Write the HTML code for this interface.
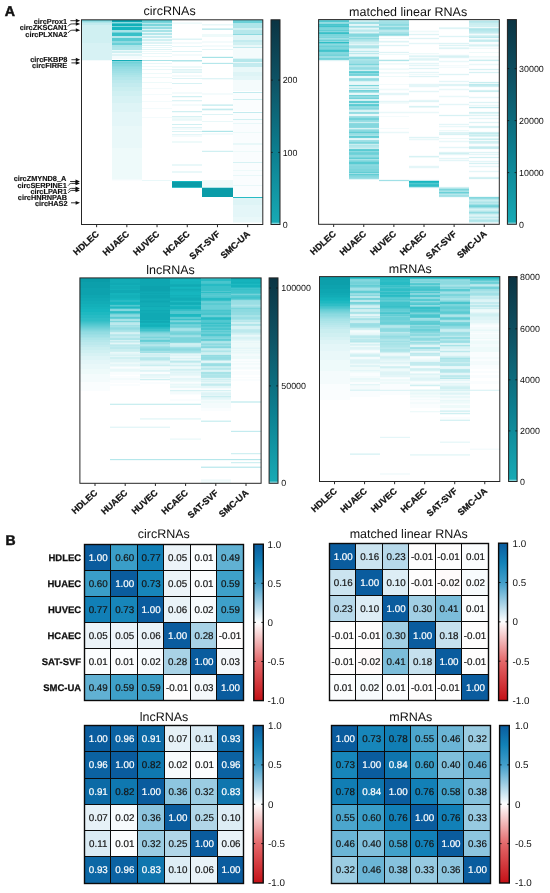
<!DOCTYPE html>
<html lang="en"><head><meta charset="utf-8"><title>Figure</title>
<style>
html,body{margin:0;padding:0;background:#fff}
svg{display:block}
text{font-family:"Liberation Sans", Arial, Helvetica, sans-serif;fill:#111;text-rendering:geometricPrecision}
.b{font-weight:700;stroke:#111;stroke-width:.25px}
</style></head><body>
<svg width="550" height="893" viewBox="0 0 550 893">
<rect width="550" height="893" fill="#fff"/>
<defs><linearGradient id="tg" x1="0" y1="1" x2="0" y2="0"><stop offset="0" stop-color="#c8f2f4"/><stop offset="0.012" stop-color="#17a9b4"/><stop offset="0.35" stop-color="#0c7f90"/><stop offset="0.7" stop-color="#0e5365"/><stop offset="1" stop-color="#0b3443"/></linearGradient><linearGradient id="bg" x1="0" y1="0" x2="0" y2="1"><stop offset="0" stop-color="#0a5c9e"/><stop offset="0.125" stop-color="#1282b8"/><stop offset="0.25" stop-color="#429fca"/><stop offset="0.5" stop-color="#ffffff"/><stop offset="0.75" stop-color="#e4686a"/><stop offset="1" stop-color="#c41016"/></linearGradient></defs>
<path fill="#fafdfe" d="M112 180h30v1h-30zM233 93h29.8v6h-29.8zM233 100h29.8v11h-29.8zM233 113h29.8v6h-29.8zM233 120h29.8v3h-29.8zM233 124h29.8v8h-29.8zM233 133h29.8v10h-29.8zM233 145h29.8v6h-29.8zM233 152h29.8v10h-29.8zM233 163h29.8v7h-29.8zM233 171h29.8v4h-29.8zM233 176h29.8v9h-29.8zM233 186h29.8v11h-29.8z"/>
<path fill="#f4fbfc" d="M81.5 60h30.5v1h-30.5zM112 53h30v1h-30zM112 56h30v3h-30zM112 179h30v1h-30zM142 38h30v1h-30zM142 41h30v1h-30zM142 88h30v1h-30zM142 94h30v1h-30zM142 101h30v1h-30zM142 108h30v1h-30zM142 117h30v1h-30zM172 22h30v1h-30zM172 42h30v2h-30zM172 54h30v2h-30zM172 75h30v2h-30zM172 92h30v2h-30zM172 97h30v1h-30zM172 101h30v1h-30zM172 104h30v2h-30zM172 112h30v1h-30zM172 128h30v2h-30zM172 135h30v2h-30zM202 25h31v1h-31zM202 41h31v2h-31zM202 45h31v2h-31zM202 62h31v1h-31zM202 79h31v1h-31zM202 93h31v2h-31zM202 133h31v2h-31zM202 150h31v1h-31zM233 48h29.8v10h-29.8zM233 80h29.8v11h-29.8zM233 222h29.8v1h-29.8z"/>
<path fill="#eefafa" d="M112 148h30v31h-30zM142 35h30v1h-30zM142 51h30v1h-30zM142 56h30v1h-30zM142 66h30v1h-30zM142 73h30v1h-30zM142 77h30v1h-30zM142 82h30v1h-30zM172 23h30v1h-30zM172 38h30v1h-30zM172 66h30v2h-30zM172 117h30v2h-30zM172 120h30v1h-30zM172 141h30v2h-30zM202 34h31v3h-31zM202 56h31v1h-31zM202 110h31v1h-31zM202 130h31v1h-31zM202 180h31v7h-31zM233 132h29.8v1h-29.8zM233 151h29.8v1h-29.8zM233 170h29.8v1h-29.8z"/>
<path fill="#e9f8f9" d="M112 50h30v1h-30zM112 126h30v22h-30zM142 32h30v1h-30zM142 47h30v1h-30zM142 53h30v1h-30zM142 63h30v1h-30zM142 69h30v1h-30zM142 180h30v1h-30zM172 70h30v2h-30zM172 119h30v1h-30zM172 164h30v2h-30zM172 171h30v2h-30zM202 24h31v1h-31zM202 108h31v1h-31zM202 121h31v1h-31zM233 45h29.8v2h-29.8zM233 62h29.8v1h-29.8zM233 67h29.8v5h-29.8zM233 123h29.8v1h-29.8zM233 143h29.8v2h-29.8zM233 175h29.8v1h-29.8zM233 185h29.8v1h-29.8zM233 217h29.8v5h-29.8z"/>
<path fill="#e4f6f8" d="M112 112h30v14h-30zM172 46h30v1h-30zM172 134h30v1h-30zM202 49h31v1h-31zM233 76h29.8v4h-29.8zM233 205h29.8v12h-29.8z"/>
<path fill="#def4f6" d="M112 54h30v2h-30zM112 103h30v9h-30zM142 29h30v1h-30zM142 42h30v2h-30zM142 45h30v1h-30zM142 49h30v1h-30zM172 39h30v1h-30zM172 51h30v1h-30zM172 69h30v1h-30zM172 72h30v1h-30zM172 78h30v1h-30zM172 100h30v1h-30zM172 127h30v1h-30zM202 78h31v1h-31zM202 104h31v1h-31zM202 114h31v1h-31zM233 35h29.8v5h-29.8zM233 58h29.8v1h-29.8zM233 72h29.8v4h-29.8zM233 198h29.8v7h-29.8z"/>
<path fill="#d7f2f4" d="M81.5 43h30.5v17h-30.5zM112 96h30v7h-30zM172 61h30v1h-30zM172 83h30v1h-30zM172 116h30v1h-30zM172 131h30v1h-30zM202 28h31v1h-31zM233 162h29.8v1h-29.8z"/>
<path fill="#d0f0f2" d="M81.5 25h30.5v18h-30.5zM112 51h30v2h-30zM112 91h30v5h-30zM142 39h30v2h-30zM172 96h30v1h-30zM172 111h30v1h-30zM172 124h30v1h-30zM202 105h31v1h-31zM202 151h31v1h-31zM233 28h29.8v2h-29.8zM233 42h29.8v3h-29.8zM233 99h29.8v1h-29.8zM233 119h29.8v1h-29.8z"/>
<path fill="#caeef0" d="M112 87h30v4h-30z"/>
<path fill="#c3ebef" d="M81.5 23h30.5v2h-30.5zM112 83h30v4h-30zM142 26h30v1h-30zM142 36h30v2h-30zM202 29h31v1h-31zM202 109h31v1h-31zM233 40h29.8v2h-29.8zM233 47h29.8v1h-29.8zM233 63h29.8v4h-29.8zM233 92h29.8v1h-29.8zM233 112h29.8v1h-29.8z"/>
<path fill="#bce9ed" d="M112 80h30v3h-30z"/>
<path fill="#b5e7eb" d="M112 36h30v2h-30zM112 77h30v3h-30zM142 23h30v1h-30zM142 33h30v2h-30zM202 63h31v1h-31zM233 30h29.8v4h-29.8zM233 59h29.8v3h-29.8z"/>
<path fill="#aee5e9" d="M81.5 22h30.5v1h-30.5zM112 47h30v3h-30zM112 75h30v2h-30zM172 60h30v1h-30zM202 131h31v1h-31zM202 187h31v1h-31zM233 23h29.8v5h-29.8z"/>
<path fill="#a7e3e7" d="M112 30h30v2h-30zM112 45h30v2h-30zM112 73h30v2h-30zM142 30h30v2h-30zM142 60h30v1h-30zM202 57h31v1h-31z"/>
<path fill="#a0e0e6" d="M112 71h30v2h-30z"/>
<path fill="#9adee4" d="M112 69h30v2h-30z"/>
<path fill="#93dce2" d="M81.5 21h30.5v1h-30.5zM112 67h30v2h-30zM142 27h30v2h-30z"/>
<path fill="#8cdae0" d="M112 22h30v1h-30zM112 41h30v2h-30zM112 66h30v1h-30zM233 34h29.8v1h-29.8z"/>
<path fill="#84d7de" d="M112 61h30v1h-30zM112 64h30v2h-30z"/>
<path fill="#7bd5db" d="M112 26h30v1h-30zM112 63h30v1h-30zM142 22h30v1h-30zM142 24h30v2h-30z"/>
<path fill="#73d2d9" d="M112 32h30v1h-30zM112 62h30v1h-30z"/>
<path fill="#6ad0d7" d="M81.5 20h30.5v1h-30.5zM112 43h30v2h-30zM142 21h30v1h-30zM233 20h29.8v3h-29.8z"/>
<path fill="#59cbd2" d="M112 38h30v3h-30zM142 20h30v1h-30z"/>
<path fill="#49c5cd" d="M112 23h30v1h-30z"/>
<path fill="#38c0c8" d="M112 33h30v3h-30zM172 187h30v1h-30z"/>
<path fill="#27bbc4" d="M233 197h29.8v1h-29.8z"/>
<path fill="#16b6bf" d="M112 27h30v3h-30zM172 181h30v1h-30z"/>
<path fill="#13b0b9" d="M112 24h30v2h-30z"/>
<path fill="#12acb6" d="M112 60h30v1h-30z"/>
<path fill="#0ea6b1" d="M112 20h30v2h-30z"/>
<path fill="#0a9ca8" d="M172 182h30v5h-30zM202 188h31v9h-31z"/>
<rect x="81.5" y="19.8" width="181.3" height="204.7" fill="none" stroke="#262626" stroke-width="1"/>
<text class="b" font-size="9" text-anchor="end" transform="translate(99.61 234.9) rotate(-42)">HDLEC</text>
<text class="b" font-size="9" text-anchor="end" transform="translate(129.82 234.9) rotate(-42)">HUAEC</text>
<text class="b" font-size="9" text-anchor="end" transform="translate(160.04 234.9) rotate(-42)">HUVEC</text>
<text class="b" font-size="9" text-anchor="end" transform="translate(190.26 234.9) rotate(-42)">HCAEC</text>
<text class="b" font-size="9" text-anchor="end" transform="translate(220.48 234.9) rotate(-42)">SAT-SVF</text>
<text class="b" font-size="9" text-anchor="end" transform="translate(250.69 234.9) rotate(-42)">SMC-UA</text>
<path d="M96.61 224.5v2.7M126.83 224.5v2.7M157.04 224.5v2.7M187.26 224.5v2.7M217.48 224.5v2.7M247.69 224.5v2.7" stroke="#262626" stroke-width="1" fill="none"/>
<text font-size="12.5" text-anchor="middle" x="169.65" y="15.4">circRNAs</text>
<rect x="271" y="19.8" width="9" height="204.7" fill="url(#tg)" stroke="#222" stroke-width="1"/>
<text font-size="8.9" x="282.7" y="227.9">0</text>
<text font-size="8.9" x="282.7" y="155.6">100</text>
<text font-size="8.9" x="282.7" y="83.3">200</text>
<path d="M271 152.4h1.8M280 152.4h-1.8M271 80.1h1.8M280 80.1h-1.8" stroke="#111" stroke-width="0.8" fill="none"/>
<path fill="#fafdfe" d="M318.6 61h30.4v1h-30.4zM379 40h30v1h-30zM379 44h30v1h-30zM379 46h30v1h-30zM379 51h30v1h-30zM379 53h30v1h-30zM379 88h30v1h-30zM379 90h30v1h-30zM379 92h30v1h-30zM379 95h30v1h-30zM379 100h30v1h-30zM379 111h30v1h-30zM379 113h30v1h-30zM379 131h30v1h-30zM379 133h30v1h-30zM409 30h30v1h-30zM409 32h30v2h-30zM409 35h30v1h-30zM409 37h30v1h-30zM409 39h30v1h-30zM409 42h30v1h-30zM409 44h30v1h-30zM409 54h30v1h-30zM409 62h30v1h-30zM409 66h30v2h-30zM409 69h30v1h-30zM409 71h30v1h-30zM409 73h30v1h-30zM409 75h30v1h-30zM409 77h30v1h-30zM409 83h30v1h-30zM409 87h30v1h-30zM409 90h30v1h-30zM409 92h30v1h-30zM409 99h30v1h-30zM409 102h30v1h-30zM409 105h30v1h-30zM409 111h30v1h-30zM409 113h30v1h-30zM409 136h30v1h-30zM409 140h30v1h-30zM409 155h30v1h-30zM409 165h30v1h-30zM409 168h30v1h-30zM409 179h30v1h-30zM409 188h30v1h-30zM439 29h30v1h-30zM439 35h30v1h-30zM439 37h30v1h-30zM439 42h30v1h-30zM439 46h30v1h-30zM439 49h30v1h-30zM439 54h30v1h-30zM439 58h30v1h-30zM439 60h30v1h-30zM439 62h30v1h-30zM439 66h30v1h-30zM439 73h30v1h-30zM439 75h30v1h-30zM439 80h30v1h-30zM439 82h30v2h-30zM439 86h30v1h-30zM439 88h30v1h-30zM439 90h30v1h-30zM439 95h30v1h-30zM439 97h30v1h-30zM439 103h30v1h-30zM439 105h30v1h-30zM439 114h30v1h-30zM439 116h30v1h-30zM439 123h30v1h-30zM439 125h30v1h-30zM439 127h30v1h-30zM439 131h30v1h-30zM439 135h30v1h-30zM439 140h30v1h-30zM439 142h30v1h-30zM439 146h30v1h-30zM439 148h30v1h-30zM439 151h30v1h-30zM439 155h30v1h-30zM439 157h30v1h-30zM439 161h30v1h-30zM439 186h30v1h-30zM469 42h30.3v2h-30.3zM469 47h30.3v1h-30.3zM469 58h30.3v1h-30.3zM469 61h30.3v1h-30.3zM469 63h30.3v1h-30.3zM469 65h30.3v1h-30.3zM469 68h30.3v1h-30.3zM469 70h30.3v2h-30.3zM469 73h30.3v1h-30.3zM469 81h30.3v1h-30.3zM469 87h30.3v1h-30.3zM469 89h30.3v1h-30.3zM469 92h30.3v1h-30.3zM469 96h30.3v1h-30.3zM469 98h30.3v1h-30.3zM469 101h30.3v1h-30.3zM469 103h30.3v2h-30.3zM469 111h30.3v1h-30.3zM469 116h30.3v2h-30.3zM469 119h30.3v1h-30.3zM469 121h30.3v1h-30.3zM469 123h30.3v1h-30.3zM469 125h30.3v1h-30.3zM469 128h30.3v1h-30.3zM469 131h30.3v1h-30.3zM469 137h30.3v1h-30.3zM469 144h30.3v2h-30.3zM469 149h30.3v1h-30.3zM469 151h30.3v1h-30.3zM469 155h30.3v2h-30.3zM469 158h30.3v1h-30.3zM469 160h30.3v1h-30.3zM469 164h30.3v2h-30.3zM469 167h30.3v1h-30.3zM469 170h30.3v1h-30.3zM469 172h30.3v1h-30.3zM469 176h30.3v1h-30.3zM469 179h30.3v1h-30.3zM469 223h30.3v1h-30.3z"/>
<path fill="#f4fbfc" d="M379 36h30v1h-30zM379 61h30v1h-30zM379 64h30v1h-30zM379 68h30v1h-30zM379 73h30v1h-30zM379 84h30v1h-30zM379 103h30v1h-30zM379 116h30v1h-30zM379 128h30v1h-30zM379 179h30v1h-30zM379 181h30v1h-30zM409 57h30v1h-30zM409 64h30v1h-30zM409 138h30v1h-30zM439 44h30v1h-30zM439 65h30v1h-30zM439 67h30v1h-30zM439 159h30v1h-30zM439 197h30v1h-30zM469 34h30.3v1h-30.3zM469 38h30.3v1h-30.3zM469 57h30.3v1h-30.3zM469 106h30.3v1h-30.3zM469 108h30.3v1h-30.3zM469 114h30.3v1h-30.3zM469 140h30.3v1h-30.3zM469 153h30.3v1h-30.3zM469 162h30.3v1h-30.3z"/>
<path fill="#eefafa" d="M379 38h30v1h-30zM379 42h30v1h-30zM379 54h30v1h-30zM379 63h30v1h-30zM379 69h30v1h-30zM379 72h30v1h-30zM379 76h30v1h-30zM379 89h30v1h-30zM379 102h30v1h-30zM409 31h30v1h-30zM409 53h30v1h-30zM409 74h30v1h-30zM409 157h30v1h-30zM439 130h30v1h-30zM439 138h30v1h-30zM469 27h30.3v1h-30.3zM469 48h30.3v1h-30.3zM469 52h30.3v1h-30.3zM469 56h30.3v1h-30.3zM469 83h30.3v1h-30.3zM469 196h30.3v1h-30.3z"/>
<path fill="#e9f8f9" d="M349 49h30v1h-30zM349 55h30v1h-30zM349 76h30v2h-30zM349 82h30v2h-30zM349 93h30v1h-30zM349 114h30v2h-30zM379 59h30v1h-30zM379 112h30v1h-30zM379 132h30v1h-30zM409 55h30v1h-30zM409 60h30v1h-30zM409 107h30v1h-30zM409 112h30v1h-30zM409 139h30v1h-30zM439 27h30v1h-30zM439 47h30v1h-30zM439 61h30v1h-30zM439 89h30v1h-30zM439 96h30v1h-30zM439 126h30v1h-30zM439 141h30v1h-30zM469 46h30.3v1h-30.3zM469 59h30.3v1h-30.3zM469 64h30.3v1h-30.3zM469 105h30.3v1h-30.3z"/>
<path fill="#e4f6f8" d="M349 24h30v1h-30zM349 28h30v1h-30zM349 44h30v1h-30zM349 50h30v1h-30zM349 52h30v1h-30zM349 54h30v1h-30zM349 84h30v1h-30zM349 94h30v1h-30zM349 139h30v1h-30zM349 179h30v1h-30zM379 93h30v2h-30zM379 101h30v1h-30zM409 43h30v1h-30zM409 58h30v1h-30zM409 63h30v1h-30zM409 65h30v1h-30zM409 72h30v1h-30zM409 84h30v3h-30zM409 91h30v1h-30zM409 100h30v1h-30zM409 166h30v2h-30zM439 55h30v1h-30zM439 81h30v1h-30zM439 104h30v1h-30zM439 124h30v1h-30zM439 147h30v1h-30zM439 154h30v1h-30zM439 158h30v1h-30zM439 160h30v1h-30zM469 44h30.3v1h-30.3zM469 97h30.3v1h-30.3zM469 118h30.3v1h-30.3zM469 154h30.3v1h-30.3zM469 161h30.3v1h-30.3zM469 166h30.3v1h-30.3zM469 171h30.3v1h-30.3z"/>
<path fill="#def4f6" d="M318.6 60h30.4v1h-30.4zM349 25h30v1h-30zM349 32h30v1h-30zM349 89h30v1h-30zM349 138h30v1h-30zM379 41h30v1h-30zM379 45h30v1h-30zM379 52h30v1h-30zM409 34h30v1h-30zM409 38h30v1h-30zM409 56h30v1h-30zM409 59h30v1h-30zM409 68h30v1h-30zM409 76h30v1h-30zM409 101h30v1h-30zM409 137h30v1h-30zM439 28h30v1h-30zM439 36h30v1h-30zM439 43h30v1h-30zM439 45h30v1h-30zM439 48h30v1h-30zM439 57h30v1h-30zM439 74h30v1h-30zM439 84h30v2h-30zM439 132h30v2h-30zM439 152h30v1h-30zM469 39h30.3v1h-30.3zM469 102h30.3v1h-30.3zM469 113h30.3v1h-30.3zM469 115h30.3v1h-30.3zM469 122h30.3v1h-30.3zM469 136h30.3v1h-30.3zM469 138h30.3v1h-30.3zM469 143h30.3v1h-30.3zM469 152h30.3v1h-30.3zM469 215h30.3v1h-30.3zM469 222h30.3v1h-30.3z"/>
<path fill="#d7f2f4" d="M349 81h30v1h-30zM349 87h30v1h-30zM349 99h30v1h-30zM349 110h30v2h-30zM349 128h30v1h-30zM409 106h30v1h-30zM409 156h30v1h-30zM439 56h30v1h-30zM439 115h30v1h-30zM439 134h30v1h-30zM469 20h30.3v1h-30.3zM469 33h30.3v1h-30.3zM469 35h30.3v1h-30.3zM469 45h30.3v1h-30.3zM469 69h30.3v1h-30.3zM469 72h30.3v1h-30.3zM469 90h30.3v1h-30.3zM469 126h30.3v2h-30.3zM469 134h30.3v1h-30.3zM469 146h30.3v1h-30.3zM469 163h30.3v1h-30.3zM469 177h30.3v1h-30.3zM469 209h30.3v1h-30.3zM469 218h30.3v1h-30.3z"/>
<path fill="#d0f0f2" d="M349 20h30v1h-30zM349 29h30v1h-30zM349 42h30v2h-30zM349 48h30v1h-30zM349 70h30v1h-30zM349 86h30v1h-30zM349 100h30v1h-30zM439 153h30v1h-30zM439 187h30v1h-30zM469 25h30.3v2h-30.3zM469 86h30.3v1h-30.3zM469 112h30.3v1h-30.3zM469 132h30.3v1h-30.3zM469 141h30.3v2h-30.3zM469 157h30.3v1h-30.3zM469 178h30.3v1h-30.3zM469 214h30.3v1h-30.3zM469 216h30.3v1h-30.3z"/>
<path fill="#caeef0" d="M349 21h30v1h-30zM349 56h30v1h-30zM349 122h30v1h-30zM349 144h30v1h-30zM349 148h30v1h-30zM469 23h30.3v2h-30.3zM469 36h30.3v1h-30.3zM469 41h30.3v1h-30.3zM469 60h30.3v1h-30.3zM469 82h30.3v1h-30.3zM469 91h30.3v1h-30.3zM469 135h30.3v1h-30.3zM469 139h30.3v1h-30.3zM469 148h30.3v1h-30.3zM469 200h30.3v1h-30.3zM469 210h30.3v1h-30.3z"/>
<path fill="#c3ebef" d="M349 31h30v1h-30zM409 180h30v1h-30zM409 187h30v1h-30zM469 32h30.3v1h-30.3zM469 40h30.3v1h-30.3zM469 85h30.3v1h-30.3zM469 107h30.3v1h-30.3zM469 133h30.3v1h-30.3zM469 147h30.3v1h-30.3zM469 208h30.3v1h-30.3zM469 219h30.3v1h-30.3z"/>
<path fill="#bce9ed" d="M349 30h30v1h-30zM349 41h30v1h-30zM349 45h30v1h-30zM349 51h30v1h-30zM349 53h30v1h-30zM349 103h30v1h-30zM349 147h30v1h-30zM379 30h30v2h-30zM469 22h30.3v1h-30.3zM469 28h30.3v1h-30.3zM469 31h30.3v1h-30.3zM469 37h30.3v1h-30.3zM469 84h30.3v1h-30.3zM469 201h30.3v1h-30.3zM469 203h30.3v1h-30.3zM469 217h30.3v1h-30.3z"/>
<path fill="#b5e7eb" d="M349 27h30v1h-30zM349 66h30v1h-30zM349 146h30v1h-30zM379 26h30v1h-30zM439 194h30v1h-30zM469 21h30.3v1h-30.3zM469 30h30.3v1h-30.3zM469 199h30.3v1h-30.3zM469 211h30.3v1h-30.3zM469 221h30.3v1h-30.3z"/>
<path fill="#aee5e9" d="M349 33h30v1h-30zM349 37h30v1h-30zM349 40h30v1h-30zM349 46h30v2h-30zM349 59h30v1h-30zM349 65h30v1h-30zM349 88h30v1h-30zM349 145h30v1h-30zM379 60h30v1h-30zM439 188h30v1h-30zM469 29h30.3v1h-30.3zM469 202h30.3v1h-30.3zM469 213h30.3v1h-30.3zM469 220h30.3v1h-30.3z"/>
<path fill="#a7e3e7" d="M349 39h30v1h-30zM349 60h30v1h-30zM349 92h30v1h-30zM349 129h30v1h-30zM349 135h30v1h-30zM349 159h30v1h-30zM379 20h30v2h-30zM379 32h30v1h-30zM379 35h30v1h-30zM439 191h30v1h-30zM439 196h30v1h-30z"/>
<path fill="#a0e0e6" d="M318.6 38h30.4v1h-30.4zM349 22h30v2h-30zM349 26h30v1h-30zM349 61h30v2h-30zM349 69h30v1h-30zM349 78h30v1h-30zM349 80h30v1h-30zM349 109h30v1h-30zM349 116h30v1h-30zM349 140h30v1h-30zM349 173h30v1h-30zM379 22h30v2h-30zM379 33h30v1h-30zM379 180h30v1h-30zM439 195h30v1h-30zM469 204h30.3v1h-30.3z"/>
<path fill="#9adee4" d="M318.6 56h30.4v2h-30.4zM349 63h30v1h-30zM349 67h30v1h-30zM349 113h30v1h-30zM349 121h30v1h-30zM349 134h30v1h-30zM349 141h30v1h-30zM349 178h30v1h-30zM379 29h30v1h-30zM469 207h30.3v1h-30.3z"/>
<path fill="#93dce2" d="M318.6 22h30.4v1h-30.4zM349 68h30v1h-30zM349 79h30v1h-30zM349 96h30v1h-30zM349 107h30v1h-30zM349 112h30v1h-30zM349 117h30v1h-30zM349 120h30v1h-30zM349 133h30v1h-30zM349 155h30v2h-30zM379 25h30v1h-30zM439 190h30v1h-30zM439 193h30v1h-30zM469 198h30.3v1h-30.3zM469 212h30.3v1h-30.3z"/>
<path fill="#8cdae0" d="M318.6 23h30.4v1h-30.4zM318.6 39h30.4v1h-30.4zM318.6 41h30.4v1h-30.4zM318.6 44h30.4v1h-30.4zM349 36h30v1h-30zM349 38h30v1h-30zM349 57h30v2h-30zM349 73h30v1h-30zM349 97h30v1h-30zM349 106h30v1h-30zM349 123h30v1h-30zM349 127h30v1h-30zM349 130h30v1h-30zM349 143h30v1h-30zM349 151h30v1h-30zM349 160h30v1h-30zM349 165h30v1h-30zM349 177h30v1h-30zM379 24h30v1h-30zM379 27h30v1h-30zM379 34h30v1h-30z"/>
<path fill="#84d7de" d="M318.6 31h30.4v1h-30.4zM318.6 36h30.4v1h-30.4zM318.6 52h30.4v2h-30.4zM349 34h30v2h-30zM349 91h30v1h-30zM349 108h30v1h-30zM349 124h30v3h-30zM349 131h30v1h-30zM349 164h30v1h-30zM349 166h30v3h-30zM349 176h30v1h-30zM379 28h30v1h-30zM469 197h30.3v1h-30.3z"/>
<path fill="#7bd5db" d="M318.6 28h30.4v2h-30.4zM318.6 34h30.4v2h-30.4zM318.6 37h30.4v1h-30.4zM318.6 45h30.4v1h-30.4zM318.6 47h30.4v2h-30.4zM318.6 54h30.4v1h-30.4zM318.6 59h30.4v1h-30.4zM349 64h30v1h-30zM349 75h30v1h-30zM349 85h30v1h-30zM349 142h30v1h-30zM349 157h30v1h-30zM349 161h30v1h-30zM349 169h30v3h-30zM349 175h30v1h-30zM439 189h30v1h-30zM469 205h30.3v1h-30.3z"/>
<path fill="#73d2d9" d="M318.6 27h30.4v1h-30.4zM318.6 55h30.4v1h-30.4zM318.6 58h30.4v1h-30.4zM349 74h30v1h-30zM349 90h30v1h-30zM349 95h30v1h-30zM349 98h30v1h-30zM349 118h30v2h-30zM349 152h30v1h-30zM349 154h30v1h-30zM469 206h30.3v1h-30.3z"/>
<path fill="#6ad0d7" d="M318.6 40h30.4v1h-30.4zM318.6 43h30.4v1h-30.4zM318.6 46h30.4v1h-30.4zM318.6 49h30.4v1h-30.4zM349 71h30v1h-30zM349 137h30v1h-30zM349 153h30v1h-30zM439 192h30v1h-30z"/>
<path fill="#62cdd4" d="M318.6 20h30.4v1h-30.4zM318.6 30h30.4v1h-30.4zM349 101h30v2h-30zM349 104h30v1h-30zM349 132h30v1h-30zM349 136h30v1h-30zM349 149h30v1h-30zM349 158h30v1h-30zM349 172h30v1h-30zM349 174h30v1h-30z"/>
<path fill="#59cbd2" d="M349 72h30v1h-30zM349 105h30v1h-30zM349 150h30v1h-30zM349 162h30v2h-30z"/>
<path fill="#51c8d0" d="M318.6 21h30.4v1h-30.4zM318.6 25h30.4v1h-30.4zM409 183h30v1h-30z"/>
<path fill="#49c5cd" d="M318.6 24h30.4v1h-30.4zM318.6 32h30.4v1h-30.4zM318.6 51h30.4v1h-30.4zM409 186h30v1h-30z"/>
<path fill="#40c3cb" d="M318.6 26h30.4v1h-30.4zM318.6 50h30.4v1h-30.4z"/>
<path fill="#38c0c8" d="M318.6 33h30.4v1h-30.4zM409 184h30v1h-30z"/>
<path fill="#2fbec6" d="M318.6 42h30.4v1h-30.4zM409 185h30v1h-30z"/>
<path fill="#27bbc4" d="M409 182h30v1h-30z"/>
<path fill="#16b6bf" d="M409 181h30v1h-30z"/>
<rect x="318.6" y="19.6" width="180.7" height="204.7" fill="none" stroke="#262626" stroke-width="1"/>
<text class="b" font-size="9" text-anchor="end" transform="translate(336.66 234.7) rotate(-42)">HDLEC</text>
<text class="b" font-size="9" text-anchor="end" transform="translate(366.78 234.7) rotate(-42)">HUAEC</text>
<text class="b" font-size="9" text-anchor="end" transform="translate(396.89 234.7) rotate(-42)">HUVEC</text>
<text class="b" font-size="9" text-anchor="end" transform="translate(427.01 234.7) rotate(-42)">HCAEC</text>
<text class="b" font-size="9" text-anchor="end" transform="translate(457.12 234.7) rotate(-42)">SAT-SVF</text>
<text class="b" font-size="9" text-anchor="end" transform="translate(487.24 234.7) rotate(-42)">SMC-UA</text>
<path d="M333.66 224.3v2.7M363.78 224.3v2.7M393.89 224.3v2.7M424.01 224.3v2.7M454.12 224.3v2.7M484.24 224.3v2.7" stroke="#262626" stroke-width="1" fill="none"/>
<text font-size="12.5" text-anchor="middle" x="408.15" y="16">matched linear RNAs</text>
<rect x="507.4" y="19.6" width="9" height="204.7" fill="url(#tg)" stroke="#222" stroke-width="1"/>
<text font-size="8.9" x="519.1" y="227.8">0</text>
<text font-size="8.9" x="519.1" y="175.8">10000</text>
<text font-size="8.9" x="519.1" y="123.8">20000</text>
<text font-size="8.9" x="519.1" y="71.8">30000</text>
<path d="M507.4 172.6h1.8M516.4 172.6h-1.8M507.4 120.6h1.8M516.4 120.6h-1.8M507.4 68.6h1.8M516.4 68.6h-1.8" stroke="#111" stroke-width="0.8" fill="none"/>
<path fill="#fafdfe" d="M79.9 382h30.1v9h-30.1zM110 367h30v1h-30zM110 372h30v3h-30zM110 376h30v2h-30zM110 380h30v3h-30zM110 384h30v2h-30zM140 372h30v2h-30zM140 382h30v2h-30zM170 382h31v1h-31zM170 388h31v2h-31zM170 394h31v1h-31zM170 399h31v2h-31zM201 389h30v1h-30zM201 408h30v3h-30zM231 359h30.1v2h-30.1zM231 362h30.1v1h-30.1zM231 365h30.1v2h-30.1zM231 369h30.1v1h-30.1zM231 371h30.1v4h-30.1zM231 377h30.1v1h-30.1zM231 379h30.1v2h-30.1z"/>
<path fill="#f4fbfc" d="M79.9 374h30.1v8h-30.1zM110 368h30v1h-30zM110 378h30v2h-30zM110 426h30v1h-30zM110 460h30v1h-30zM140 367h30v1h-30zM140 378h30v1h-30zM140 380h30v1h-30zM140 426h30v1h-30zM140 460h30v1h-30zM170 376h31v2h-31zM170 383h31v1h-31zM170 392h31v2h-31zM170 438h31v1h-31zM170 460h31v1h-31zM201 388h30v1h-30zM201 400h30v1h-30zM201 403h30v5h-30zM201 460h30v1h-30zM201 479h30v1h-30zM201 481h30v1h-30zM231 354h30.1v2h-30.1zM231 361h30.1v1h-30.1zM231 363h30.1v2h-30.1zM231 367h30.1v2h-30.1zM231 430h30.1v1h-30.1zM231 454h30.1v1h-30.1zM231 460h30.1v1h-30.1zM231 463h30.1v1h-30.1z"/>
<path fill="#eefafa" d="M79.9 369h30.1v5h-30.1zM110 363h30v1h-30zM110 366h30v1h-30zM110 371h30v1h-30zM110 403h30v1h-30zM140 368h30v2h-30zM140 403h30v1h-30zM140 419h30v1h-30zM170 367h31v1h-31zM170 381h31v1h-31zM170 385h31v1h-31zM170 391h31v1h-31zM170 403h31v1h-31zM170 419h31v1h-31zM170 439h31v1h-31zM201 391h30v1h-30zM201 401h30v2h-30zM201 480h30v1h-30zM201 482h30v1h-30zM231 341h30.1v1h-30.1zM231 343h30.1v4h-30.1zM231 349h30.1v1h-30.1zM231 351h30.1v1h-30.1zM231 353h30.1v1h-30.1zM231 356h30.1v3h-30.1z"/>
<path fill="#e9f8f9" d="M79.9 364h30.1v5h-30.1zM110 352h30v1h-30zM110 362h30v1h-30zM110 369h30v2h-30zM140 366h30v1h-30zM140 376h30v2h-30zM140 418h30v1h-30zM170 356h31v2h-31zM170 359h31v1h-31zM170 368h31v1h-31zM170 375h31v1h-31zM170 380h31v1h-31zM170 384h31v1h-31zM170 386h31v2h-31zM170 418h31v1h-31zM201 382h30v1h-30zM201 399h30v1h-30zM201 420h30v1h-30zM231 335h30.1v1h-30.1zM231 342h30.1v1h-30.1zM231 347h30.1v1h-30.1zM231 350h30.1v1h-30.1zM231 352h30.1v1h-30.1z"/>
<path fill="#e4f6f8" d="M79.9 360h30.1v4h-30.1zM110 343h30v1h-30zM110 353h30v1h-30zM110 356h30v1h-30zM110 364h30v2h-30zM110 427h30v1h-30zM140 362h30v1h-30zM140 371h30v1h-30zM140 374h30v2h-30zM140 427h30v1h-30zM170 354h31v1h-31zM170 363h31v2h-31zM170 366h31v1h-31zM170 371h31v1h-31zM170 373h31v2h-31zM170 378h31v2h-31zM201 361h30v1h-30zM201 386h30v2h-30zM201 392h30v1h-30zM201 395h30v1h-30zM201 398h30v1h-30zM201 466h30v1h-30zM231 336h30.1v1h-30.1zM231 340h30.1v1h-30.1zM231 348h30.1v1h-30.1zM231 466h30.1v1h-30.1z"/>
<path fill="#def4f6" d="M79.9 356h30.1v4h-30.1zM110 354h30v1h-30zM110 359h30v3h-30zM140 361h30v1h-30zM140 363h30v1h-30zM140 370h30v1h-30zM170 355h31v1h-31zM170 372h31v1h-31zM201 362h30v1h-30zM201 370h30v1h-30zM201 378h30v1h-30zM201 380h30v1h-30zM201 393h30v2h-30zM201 397h30v1h-30zM231 339h30.1v1h-30.1z"/>
<path fill="#d7f2f4" d="M79.9 353h30.1v3h-30.1zM110 333h30v1h-30zM110 340h30v1h-30zM110 355h30v1h-30zM140 353h30v1h-30zM140 356h30v1h-30zM140 364h30v1h-30zM170 358h31v1h-31zM170 360h31v1h-31zM170 370h31v1h-31zM170 390h31v1h-31zM201 371h30v1h-30zM201 381h30v1h-30zM201 383h30v1h-30zM201 390h30v1h-30zM231 326h30.1v3h-30.1zM231 334h30.1v1h-30.1zM231 337h30.1v2h-30.1zM231 401h30.1v2h-30.1z"/>
<path fill="#d0f0f2" d="M79.9 350h30.1v3h-30.1zM110 332h30v1h-30zM110 342h30v1h-30zM110 351h30v1h-30zM110 357h30v2h-30zM140 354h30v2h-30zM140 379h30v1h-30zM170 344h31v1h-31zM170 353h31v1h-31zM170 365h31v1h-31zM170 369h31v1h-31zM201 353h30v1h-30zM201 379h30v1h-30zM201 421h30v1h-30zM231 322h30.1v2h-30.1zM231 333h30.1v1h-30.1zM231 453h30.1v1h-30.1zM231 462h30.1v1h-30.1z"/>
<path fill="#caeef0" d="M79.9 347h30.1v3h-30.1zM110 344h30v1h-30zM110 349h30v2h-30zM110 404h30v1h-30zM140 360h30v1h-30zM140 365h30v1h-30zM140 404h30v1h-30zM170 343h31v1h-31zM170 345h31v1h-31zM170 362h31v1h-31zM170 404h31v1h-31zM201 349h30v1h-30zM201 352h30v1h-30zM201 354h30v1h-30zM201 367h30v1h-30zM201 385h30v1h-30zM201 396h30v1h-30z"/>
<path fill="#c3ebef" d="M79.9 345h30.1v2h-30.1zM110 336h30v2h-30zM110 341h30v1h-30zM110 346h30v1h-30zM170 346h31v1h-31zM201 360h30v1h-30zM201 366h30v1h-30zM201 384h30v1h-30zM201 467h30v1h-30zM231 329h30.1v1h-30.1zM231 332h30.1v1h-30.1zM231 431h30.1v1h-30.1zM231 467h30.1v1h-30.1z"/>
<path fill="#bce9ed" d="M79.9 342h30.1v3h-30.1zM110 323h30v2h-30zM110 334h30v1h-30zM110 345h30v1h-30zM110 347h30v2h-30zM140 357h30v1h-30zM170 361h31v1h-31zM201 348h30v1h-30zM201 350h30v1h-30zM201 369h30v1h-30zM231 320h30.1v1h-30.1zM231 330h30.1v2h-30.1z"/>
<path fill="#b5e7eb" d="M79.9 340h30.1v2h-30.1zM110 335h30v1h-30zM110 459h30v1h-30zM140 345h30v1h-30zM140 358h30v2h-30zM140 459h30v1h-30zM170 459h31v1h-31zM201 368h30v1h-30zM201 374h30v1h-30zM201 377h30v1h-30zM201 459h30v1h-30zM231 321h30.1v1h-30.1zM231 325h30.1v1h-30.1zM231 459h30.1v1h-30.1z"/>
<path fill="#aee5e9" d="M79.9 338h30.1v2h-30.1zM110 322h30v1h-30zM110 331h30v1h-30zM110 338h30v2h-30zM140 344h30v1h-30zM201 342h30v1h-30zM201 351h30v1h-30zM201 375h30v2h-30zM231 305h30.1v1h-30.1zM231 324h30.1v1h-30.1z"/>
<path fill="#a7e3e7" d="M79.9 337h30.1v1h-30.1zM110 319h30v2h-30zM110 326h30v1h-30zM110 330h30v1h-30zM140 351h30v1h-30zM170 329h31v1h-31zM170 352h31v1h-31zM201 341h30v1h-30zM201 363h30v1h-30zM201 372h30v2h-30zM231 315h30.1v2h-30.1zM231 319h30.1v1h-30.1z"/>
<path fill="#a0e0e6" d="M79.9 335h30.1v2h-30.1zM110 325h30v1h-30zM140 346h30v1h-30zM140 352h30v1h-30zM170 328h31v1h-31zM170 330h31v1h-31zM170 336h31v1h-31zM170 347h31v1h-31zM170 351h31v1h-31zM201 345h30v1h-30zM231 304h30.1v1h-30.1zM231 306h30.1v1h-30.1z"/>
<path fill="#9adee4" d="M79.9 334h30.1v1h-30.1zM110 327h30v1h-30zM110 329h30v1h-30zM140 342h30v2h-30zM170 335h31v1h-31zM201 343h30v1h-30zM201 356h30v1h-30zM201 359h30v1h-30zM201 364h30v2h-30zM231 301h30.1v3h-30.1zM231 317h30.1v2h-30.1z"/>
<path fill="#93dce2" d="M79.9 332h30.1v2h-30.1zM110 328h30v1h-30zM140 335h30v1h-30zM140 338h30v1h-30zM140 347h30v1h-30zM170 348h31v1h-31zM170 350h31v1h-31zM201 355h30v1h-30zM201 357h30v2h-30zM231 300h30.1v1h-30.1zM231 307h30.1v1h-30.1zM231 312h30.1v3h-30.1z"/>
<path fill="#8cdae0" d="M79.9 331h30.1v1h-30.1zM110 315h30v1h-30zM140 334h30v1h-30zM140 336h30v1h-30zM140 339h30v1h-30zM140 348h30v1h-30zM140 350h30v1h-30zM170 342h31v1h-31zM170 349h31v1h-31zM201 344h30v1h-30zM201 346h30v1h-30zM231 309h30.1v3h-30.1z"/>
<path fill="#84d7de" d="M79.9 330h30.1v1h-30.1zM110 309h30v2h-30zM110 316h30v1h-30zM140 333h30v1h-30zM140 349h30v1h-30zM170 331h31v1h-31zM170 337h31v1h-31zM201 338h30v1h-30zM201 347h30v1h-30z"/>
<path fill="#7bd5db" d="M79.9 329h30.1v1h-30.1zM110 314h30v1h-30zM110 321h30v1h-30zM140 337h30v1h-30zM170 321h31v1h-31zM170 327h31v1h-31zM170 332h31v1h-31zM170 334h31v1h-31zM170 338h31v4h-31zM201 337h30v1h-30zM231 308h30.1v1h-30.1z"/>
<path fill="#73d2d9" d="M79.9 328h30.1v1h-30.1zM140 332h30v1h-30zM170 325h31v1h-31zM170 333h31v1h-31zM201 336h30v1h-30zM231 294h30.1v1h-30.1z"/>
<path fill="#6ad0d7" d="M79.9 327h30.1v1h-30.1zM110 318h30v1h-30zM140 341h30v1h-30zM170 320h31v1h-31zM170 324h31v1h-31zM170 326h31v1h-31zM201 302h30v1h-30zM201 305h30v4h-30zM201 315h30v2h-30zM201 330h30v1h-30zM201 332h30v2h-30zM201 340h30v1h-30z"/>
<path fill="#62cdd4" d="M79.9 326h30.1v1h-30.1zM140 340h30v1h-30zM201 301h30v1h-30zM201 309h30v1h-30zM201 339h30v1h-30zM231 299h30.1v1h-30.1z"/>
<path fill="#59cbd2" d="M79.9 325h30.1v1h-30.1zM110 317h30v1h-30zM140 331h30v1h-30zM170 317h31v2h-31zM201 295h30v1h-30zM201 303h30v2h-30zM201 327h30v1h-30zM201 331h30v1h-30z"/>
<path fill="#51c8d0" d="M79.9 324h30.1v1h-30.1zM110 305h30v1h-30zM110 313h30v1h-30zM170 311h31v3h-31zM170 322h31v1h-31zM201 291h30v1h-30zM201 293h30v2h-30zM201 296h30v1h-30zM201 311h30v2h-30zM201 320h30v2h-30zM201 324h30v1h-30zM201 334h30v2h-30zM231 293h30.1v1h-30.1zM231 295h30.1v1h-30.1z"/>
<path fill="#49c5cd" d="M79.9 323h30.1v1h-30.1zM170 323h31v1h-31zM201 281h30v2h-30zM201 297h30v1h-30zM201 310h30v1h-30zM201 313h30v2h-30zM201 322h30v1h-30zM201 326h30v1h-30zM201 328h30v2h-30zM231 296h30.1v1h-30.1zM231 298h30.1v1h-30.1z"/>
<path fill="#40c3cb" d="M79.9 322h30.1v1h-30.1zM110 308h30v1h-30zM140 329h30v2h-30zM201 278h30v1h-30zM201 283h30v1h-30zM201 325h30v1h-30zM231 288h30.1v1h-30.1zM231 290h30.1v3h-30.1zM231 297h30.1v1h-30.1z"/>
<path fill="#38c0c8" d="M79.9 321h30.1v1h-30.1zM110 306h30v1h-30zM110 311h30v1h-30zM170 310h31v1h-31zM170 319h31v1h-31zM201 286h30v5h-30zM201 300h30v1h-30zM201 317h30v1h-30zM201 323h30v1h-30zM231 289h30.1v1h-30.1z"/>
<path fill="#2fbec6" d="M79.9 318h30.1v3h-30.1zM110 312h30v1h-30zM140 328h30v1h-30zM170 309h31v1h-31zM201 292h30v1h-30zM201 319h30v1h-30z"/>
<path fill="#27bbc4" d="M79.9 315h30.1v3h-30.1zM110 300h30v2h-30zM140 327h30v1h-30zM170 305h31v1h-31zM170 316h31v1h-31zM201 279h30v2h-30zM201 284h30v2h-30zM201 298h30v2h-30zM201 318h30v1h-30zM231 287h30.1v1h-30.1z"/>
<path fill="#1eb9c1" d="M79.9 312h30.1v3h-30.1zM110 304h30v1h-30zM110 307h30v1h-30zM170 301h31v1h-31zM170 314h31v2h-31zM231 284h30.1v1h-30.1z"/>
<path fill="#16b6bf" d="M79.9 309h30.1v3h-30.1zM110 299h30v1h-30zM110 302h30v2h-30zM140 323h30v1h-30zM170 280h31v1h-31zM170 287h31v1h-31zM170 292h31v3h-31zM170 306h31v1h-31z"/>
<path fill="#15b3bc" d="M79.9 307h30.1v2h-30.1zM110 293h30v2h-30zM110 298h30v1h-30zM140 324h30v1h-30zM140 326h30v1h-30zM170 279h31v1h-31zM170 281h31v3h-31zM170 288h31v1h-31zM170 291h31v1h-31zM170 296h31v1h-31zM170 307h31v2h-31zM231 280h30.1v2h-30.1zM231 283h30.1v1h-30.1zM231 285h30.1v2h-30.1z"/>
<path fill="#13b0b9" d="M79.9 304h30.1v3h-30.1zM110 285h30v1h-30zM110 289h30v1h-30zM110 295h30v3h-30zM140 307h30v3h-30zM140 320h30v1h-30zM140 325h30v1h-30zM170 290h31v1h-31zM170 295h31v1h-31zM170 297h31v1h-31zM170 300h31v1h-31zM170 302h31v1h-31zM170 304h31v1h-31zM231 279h30.1v1h-30.1zM231 282h30.1v1h-30.1z"/>
<path fill="#12acb6" d="M79.9 301h30.1v3h-30.1zM110 279h30v4h-30zM110 286h30v3h-30zM140 299h30v1h-30zM140 303h30v3h-30zM140 311h30v2h-30zM140 322h30v1h-30zM170 278h31v1h-31zM170 284h31v1h-31zM170 286h31v1h-31zM170 289h31v1h-31zM170 298h31v2h-31zM170 303h31v1h-31zM231 278h30.1v1h-30.1z"/>
<path fill="#10a9b4" d="M79.9 298h30.1v3h-30.1zM110 278h30v1h-30zM110 283h30v2h-30zM110 290h30v3h-30zM140 278h30v1h-30zM140 292h30v1h-30zM140 294h30v1h-30zM140 298h30v1h-30zM140 300h30v1h-30zM140 302h30v1h-30zM140 306h30v1h-30zM140 310h30v1h-30zM140 313h30v7h-30zM140 321h30v1h-30zM170 285h31v1h-31z"/>
<path fill="#0ea6b1" d="M79.9 295h30.1v3h-30.1zM140 279h30v7h-30zM140 291h30v1h-30zM140 293h30v1h-30zM140 295h30v3h-30zM140 301h30v1h-30z"/>
<path fill="#0da2ae" d="M79.9 288h30.1v7h-30.1zM140 286h30v5h-30z"/>
<path fill="#0c9fab" d="M79.9 282h30.1v6h-30.1z"/>
<path fill="#0a9ca8" d="M79.9 278h30.1v4h-30.1z"/>
<rect x="79.9" y="277.9" width="181.2" height="205.4" fill="none" stroke="#262626" stroke-width="1"/>
<text class="b" font-size="9" text-anchor="end" transform="translate(98 493.7) rotate(-42)">HDLEC</text>
<text class="b" font-size="9" text-anchor="end" transform="translate(128.2 493.7) rotate(-42)">HUAEC</text>
<text class="b" font-size="9" text-anchor="end" transform="translate(158.4 493.7) rotate(-42)">HUVEC</text>
<text class="b" font-size="9" text-anchor="end" transform="translate(188.6 493.7) rotate(-42)">HCAEC</text>
<text class="b" font-size="9" text-anchor="end" transform="translate(218.8 493.7) rotate(-42)">SAT-SVF</text>
<text class="b" font-size="9" text-anchor="end" transform="translate(249 493.7) rotate(-42)">SMC-UA</text>
<path d="M95 483.3v2.7M125.2 483.3v2.7M155.4 483.3v2.7M185.6 483.3v2.7M215.8 483.3v2.7M246 483.3v2.7" stroke="#262626" stroke-width="1" fill="none"/>
<text font-size="12.5" text-anchor="middle" x="170.5" y="274.2">lncRNAs</text>
<rect x="269.1" y="277.9" width="8.9" height="205.4" fill="url(#tg)" stroke="#222" stroke-width="1"/>
<text font-size="8.9" x="281.3" y="486.4">0</text>
<text font-size="8.9" x="281.3" y="389.1">50000</text>
<text font-size="8.9" x="281.3" y="291.2">100000</text>
<path d="M269.1 385.9h1.8M278 385.9h-1.8M269.1 288h1.8M278 288h-1.8" stroke="#111" stroke-width="0.8" fill="none"/>
<path fill="#fafdfe" d="M319.5 384h30.5v16h-30.5zM350 351h30v1h-30zM350 373h30v3h-30zM350 382h30v2h-30zM350 391h30v6h-30zM380 378h30v1h-30zM380 384h30v5h-30zM380 391h30v4h-30zM380 436h30v1h-30zM410 357h30v1h-30zM410 372h30v1h-30zM410 382h30v1h-30zM410 398h30v1h-30zM410 400h30v2h-30zM410 404h30v4h-30zM410 412h30v1h-30zM440 404h30v1h-30zM440 408h30v2h-30zM440 417h30v2h-30zM470 325h29.8v2h-29.8zM470 333h29.8v1h-29.8zM470 339h29.8v1h-29.8zM470 352h29.8v5h-29.8zM470 359h29.8v2h-29.8zM470 365h29.8v4h-29.8zM470 371h29.8v2h-29.8zM470 375h29.8v3h-29.8zM470 381h29.8v3h-29.8zM470 448h29.8v1h-29.8z"/>
<path fill="#f4fbfc" d="M319.5 371h30.5v13h-30.5zM350 331h30v1h-30zM350 350h30v1h-30zM350 352h30v1h-30zM350 357h30v2h-30zM350 372h30v1h-30zM350 376h30v2h-30zM350 386h30v3h-30zM380 365h30v1h-30zM380 377h30v1h-30zM380 381h30v1h-30zM380 389h30v1h-30zM380 473h30v2h-30zM410 358h30v1h-30zM410 366h30v2h-30zM410 381h30v1h-30zM410 383h30v1h-30zM410 386h30v1h-30zM410 395h30v1h-30zM410 397h30v1h-30zM410 399h30v1h-30zM410 402h30v2h-30zM440 381h30v2h-30zM440 395h30v1h-30zM440 398h30v2h-30zM440 403h30v1h-30zM440 412h30v1h-30zM440 414h30v1h-30zM440 441h30v1h-30zM470 324h29.8v1h-29.8zM470 327h29.8v2h-29.8zM470 331h29.8v2h-29.8zM470 334h29.8v4h-29.8zM470 340h29.8v1h-29.8zM470 344h29.8v3h-29.8zM470 357h29.8v2h-29.8zM470 361h29.8v4h-29.8zM470 389h29.8v1h-29.8zM470 449h29.8v1h-29.8z"/>
<path fill="#eefafa" d="M319.5 360h30.5v11h-30.5zM350 330h30v1h-30zM350 332h30v1h-30zM350 346h30v1h-30zM350 364h30v1h-30zM350 367h30v3h-30zM350 371h30v1h-30zM350 380h30v2h-30zM350 385h30v1h-30zM380 354h30v1h-30zM380 364h30v1h-30zM380 369h30v2h-30zM380 379h30v2h-30zM380 382h30v2h-30zM410 356h30v1h-30zM410 359h30v1h-30zM410 371h30v1h-30zM410 389h30v1h-30zM410 391h30v2h-30zM410 394h30v1h-30zM410 396h30v1h-30zM410 411h30v1h-30zM410 455h30v1h-30zM440 391h30v1h-30zM440 401h30v2h-30zM440 405h30v3h-30zM440 419h30v1h-30zM440 455h30v1h-30zM470 310h29.8v2h-29.8zM470 323h29.8v1h-29.8zM470 329h29.8v1h-29.8zM470 338h29.8v1h-29.8zM470 341h29.8v3h-29.8zM470 347h29.8v5h-29.8z"/>
<path fill="#e9f8f9" d="M319.5 351h30.5v9h-30.5zM350 333h30v1h-30zM350 343h30v1h-30zM350 378h30v2h-30zM350 389h30v1h-30zM350 453h30v1h-30zM380 353h30v1h-30zM380 355h30v1h-30zM380 361h30v1h-30zM410 360h30v1h-30zM410 373h30v1h-30zM410 375h30v2h-30zM410 384h30v1h-30zM410 393h30v1h-30zM410 454h30v1h-30zM440 353h30v2h-30zM440 367h30v1h-30zM440 379h30v1h-30zM440 384h30v1h-30zM440 392h30v1h-30zM440 396h30v2h-30zM440 400h30v1h-30zM440 442h30v1h-30zM440 454h30v1h-30zM470 309h29.8v1h-29.8zM470 330h29.8v1h-29.8z"/>
<path fill="#e4f6f8" d="M319.5 344h30.5v7h-30.5zM350 315h30v1h-30zM350 334h30v1h-30zM350 349h30v1h-30zM350 353h30v1h-30zM350 359h30v1h-30zM350 363h30v1h-30zM350 370h30v1h-30zM350 384h30v1h-30zM380 360h30v1h-30zM380 363h30v1h-30zM380 368h30v1h-30zM380 371h30v1h-30zM380 375h30v2h-30zM380 437h30v1h-30zM410 351h30v1h-30zM410 361h30v1h-30zM410 377h30v1h-30zM410 380h30v1h-30zM440 349h30v1h-30zM440 355h30v1h-30zM440 366h30v1h-30zM440 368h30v1h-30zM440 373h30v2h-30zM440 380h30v1h-30zM440 383h30v1h-30zM440 385h30v1h-30zM440 394h30v1h-30zM440 410h30v1h-30zM470 312h29.8v1h-29.8zM470 320h29.8v3h-29.8z"/>
<path fill="#def4f6" d="M319.5 340h30.5v4h-30.5zM350 314h30v1h-30zM350 345h30v1h-30zM350 347h30v2h-30zM350 360h30v3h-30zM350 365h30v2h-30zM350 390h30v1h-30zM350 454h30v1h-30zM380 359h30v1h-30zM380 362h30v1h-30zM380 372h30v3h-30zM380 390h30v1h-30zM410 345h30v2h-30zM410 352h30v1h-30zM410 374h30v1h-30zM410 378h30v2h-30zM410 390h30v1h-30zM440 350h30v1h-30zM440 352h30v1h-30zM440 389h30v1h-30zM440 393h30v1h-30zM470 300h29.8v2h-29.8zM470 317h29.8v3h-29.8zM470 390h29.8v1h-29.8z"/>
<path fill="#d7f2f4" d="M319.5 337h30.5v3h-30.5zM350 344h30v1h-30zM350 354h30v1h-30zM350 356h30v1h-30zM380 356h30v1h-30zM380 358h30v1h-30zM380 366h30v1h-30zM410 368h30v1h-30zM410 370h30v1h-30zM440 343h30v2h-30zM440 347h30v2h-30zM440 386h30v1h-30zM440 390h30v1h-30zM440 411h30v1h-30zM440 420h30v1h-30zM470 299h29.8v1h-29.8zM470 304h29.8v1h-29.8zM470 307h29.8v1h-29.8zM470 313h29.8v1h-29.8zM470 316h29.8v1h-29.8z"/>
<path fill="#d0f0f2" d="M319.5 333h30.5v4h-30.5zM350 306h30v1h-30zM350 310h30v1h-30zM350 317h30v1h-30zM350 329h30v1h-30zM350 342h30v1h-30zM350 355h30v1h-30zM380 352h30v1h-30zM380 357h30v1h-30zM380 367h30v1h-30zM410 365h30v1h-30zM410 369h30v1h-30zM410 385h30v1h-30zM440 356h30v1h-30zM440 387h30v2h-30zM440 413h30v1h-30zM470 314h29.8v2h-29.8z"/>
<path fill="#caeef0" d="M319.5 329h30.5v4h-30.5zM350 307h30v1h-30zM350 309h30v1h-30zM350 311h30v1h-30zM350 321h30v2h-30zM350 328h30v1h-30zM350 335h30v1h-30zM350 338h30v1h-30zM440 330h30v1h-30zM440 346h30v1h-30zM440 362h30v1h-30zM440 377h30v1h-30zM470 296h29.8v1h-29.8zM470 308h29.8v1h-29.8z"/>
<path fill="#c3ebef" d="M319.5 327h30.5v2h-30.5zM350 305h30v1h-30zM350 316h30v1h-30zM350 320h30v1h-30zM410 349h30v2h-30zM410 354h30v2h-30zM410 362h30v3h-30zM440 329h30v1h-30zM440 331h30v1h-30zM440 357h30v1h-30zM440 372h30v1h-30zM440 375h30v1h-30zM470 297h29.8v2h-29.8zM470 302h29.8v2h-29.8z"/>
<path fill="#bce9ed" d="M319.5 325h30.5v2h-30.5zM350 300h30v2h-30zM350 336h30v2h-30zM350 339h30v2h-30zM380 332h30v1h-30zM380 348h30v1h-30zM410 341h30v1h-30zM410 344h30v1h-30zM410 353h30v1h-30zM440 336h30v1h-30zM440 351h30v1h-30zM440 363h30v1h-30zM440 369h30v1h-30zM440 376h30v1h-30zM470 285h29.8v1h-29.8zM470 305h29.8v2h-29.8z"/>
<path fill="#b5e7eb" d="M319.5 323h30.5v2h-30.5zM350 296h30v2h-30zM350 341h30v1h-30zM380 326h30v1h-30zM380 347h30v1h-30zM380 351h30v1h-30zM440 339h30v1h-30zM440 359h30v3h-30zM440 364h30v2h-30zM440 370h30v2h-30zM440 378h30v1h-30z"/>
<path fill="#aee5e9" d="M319.5 321h30.5v2h-30.5zM350 313h30v1h-30zM350 318h30v1h-30zM350 327h30v1h-30zM380 325h30v1h-30zM380 327h30v1h-30zM380 333h30v1h-30zM380 339h30v2h-30zM380 342h30v1h-30zM380 345h30v2h-30zM380 349h30v2h-30zM410 336h30v1h-30zM440 315h30v1h-30zM440 321h30v1h-30zM470 284h29.8v1h-29.8zM470 291h29.8v2h-29.8zM470 295h29.8v1h-29.8z"/>
<path fill="#a7e3e7" d="M319.5 319h30.5v2h-30.5zM350 312h30v1h-30zM350 319h30v1h-30zM380 334h30v1h-30zM380 343h30v2h-30zM410 337h30v1h-30zM410 343h30v1h-30zM440 285h30v1h-30zM440 298h30v2h-30zM440 316h30v1h-30zM440 320h30v1h-30zM440 335h30v1h-30zM440 340h30v1h-30zM440 345h30v1h-30zM440 358h30v1h-30z"/>
<path fill="#a0e0e6" d="M319.5 318h30.5v1h-30.5zM350 288h30v2h-30zM350 323h30v1h-30zM350 326h30v1h-30zM380 335h30v1h-30zM380 338h30v1h-30zM380 341h30v1h-30zM410 318h30v1h-30zM410 347h30v1h-30zM440 292h30v1h-30zM440 328h30v1h-30zM440 332h30v1h-30zM440 334h30v1h-30zM440 342h30v1h-30zM470 290h29.8v1h-29.8zM470 293h29.8v2h-29.8z"/>
<path fill="#9adee4" d="M319.5 317h30.5v1h-30.5zM350 294h30v1h-30zM350 304h30v1h-30zM350 308h30v1h-30zM350 324h30v2h-30zM380 337h30v1h-30zM410 319h30v1h-30zM410 333h30v1h-30zM410 340h30v1h-30zM410 342h30v1h-30zM410 348h30v1h-30zM440 286h30v1h-30zM440 293h30v1h-30zM440 333h30v1h-30zM440 341h30v1h-30zM470 286h29.8v1h-29.8zM470 289h29.8v1h-29.8z"/>
<path fill="#93dce2" d="M319.5 316h30.5v1h-30.5zM350 293h30v1h-30zM380 328h30v1h-30zM380 331h30v1h-30zM380 336h30v1h-30zM410 305h30v1h-30zM410 325h30v1h-30zM440 280h30v1h-30zM440 284h30v1h-30zM440 288h30v1h-30zM440 296h30v2h-30zM440 300h30v1h-30zM440 314h30v1h-30zM440 327h30v1h-30zM440 337h30v2h-30z"/>
<path fill="#8cdae0" d="M319.5 314h30.5v2h-30.5zM350 290h30v1h-30zM380 329h30v2h-30zM410 282h30v1h-30zM410 297h30v2h-30zM410 301h30v1h-30zM410 320h30v1h-30zM410 334h30v2h-30zM410 338h30v2h-30zM440 281h30v3h-30zM440 326h30v1h-30z"/>
<path fill="#84d7de" d="M319.5 313h30.5v1h-30.5zM350 280h30v1h-30zM350 287h30v1h-30zM350 295h30v1h-30zM410 279h30v2h-30zM410 293h30v2h-30zM410 328h30v1h-30zM410 332h30v1h-30zM440 279h30v1h-30zM440 287h30v1h-30zM440 291h30v1h-30zM470 281h29.8v1h-29.8z"/>
<path fill="#7bd5db" d="M319.5 312h30.5v1h-30.5zM350 279h30v1h-30zM350 281h30v1h-30zM350 284h30v1h-30zM350 299h30v1h-30zM350 303h30v1h-30zM380 316h30v1h-30zM380 324h30v1h-30zM410 281h30v1h-30zM410 285h30v1h-30zM410 313h30v1h-30zM410 326h30v2h-30zM410 331h30v1h-30zM440 294h30v2h-30zM440 301h30v1h-30zM440 304h30v2h-30zM440 322h30v1h-30z"/>
<path fill="#73d2d9" d="M319.5 311h30.5v1h-30.5zM350 282h30v2h-30zM350 298h30v1h-30zM350 302h30v1h-30zM380 320h30v2h-30zM410 291h30v1h-30zM410 306h30v1h-30zM440 309h30v2h-30zM440 317h30v1h-30zM440 319h30v1h-30zM440 323h30v1h-30zM440 325h30v1h-30zM470 283h29.8v1h-29.8zM470 287h29.8v2h-29.8z"/>
<path fill="#6ad0d7" d="M319.5 310h30.5v1h-30.5zM350 286h30v1h-30zM380 311h30v1h-30zM380 314h30v1h-30zM380 317h30v3h-30zM380 322h30v2h-30zM410 302h30v1h-30zM410 329h30v2h-30zM440 306h30v1h-30zM440 324h30v1h-30zM470 282h29.8v1h-29.8z"/>
<path fill="#62cdd4" d="M319.5 309h30.5v1h-30.5zM350 285h30v1h-30zM350 291h30v2h-30zM380 300h30v1h-30zM380 309h30v2h-30zM380 315h30v1h-30zM410 312h30v1h-30zM410 321h30v2h-30zM410 324h30v1h-30zM440 307h30v2h-30zM440 311h30v1h-30zM440 313h30v1h-30zM440 318h30v1h-30zM470 280h29.8v1h-29.8z"/>
<path fill="#59cbd2" d="M380 298h30v1h-30zM380 301h30v1h-30zM410 283h30v1h-30zM410 286h30v1h-30zM410 299h30v2h-30zM410 303h30v1h-30zM410 314h30v1h-30zM410 317h30v1h-30zM410 323h30v1h-30zM440 289h30v2h-30zM440 312h30v1h-30z"/>
<path fill="#51c8d0" d="M319.5 308h30.5v1h-30.5zM380 297h30v1h-30zM380 299h30v1h-30zM380 308h30v1h-30zM380 312h30v1h-30zM410 284h30v1h-30zM410 292h30v1h-30zM410 295h30v2h-30zM410 304h30v1h-30z"/>
<path fill="#49c5cd" d="M319.5 307h30.5v1h-30.5zM380 287h30v1h-30zM380 291h30v1h-30zM380 313h30v1h-30zM410 287h30v2h-30zM410 290h30v1h-30zM410 309h30v1h-30zM410 311h30v1h-30zM410 315h30v2h-30zM440 302h30v2h-30zM470 279h29.8v1h-29.8z"/>
<path fill="#40c3cb" d="M319.5 306h30.5v1h-30.5zM380 285h30v1h-30zM380 294h30v1h-30zM380 302h30v4h-30zM380 307h30v1h-30zM410 289h30v1h-30zM410 310h30v1h-30z"/>
<path fill="#38c0c8" d="M350 278h30v1h-30zM380 286h30v1h-30zM380 288h30v1h-30zM380 306h30v1h-30zM410 278h30v1h-30zM410 307h30v2h-30zM440 278h30v1h-30z"/>
<path fill="#2fbec6" d="M319.5 304h30.5v2h-30.5zM380 280h30v2h-30zM380 289h30v2h-30zM380 292h30v2h-30zM380 296h30v1h-30zM470 278h29.8v1h-29.8z"/>
<path fill="#27bbc4" d="M319.5 303h30.5v1h-30.5zM380 278h30v2h-30zM380 282h30v3h-30zM380 295h30v1h-30z"/>
<path fill="#1eb9c1" d="M319.5 301h30.5v2h-30.5z"/>
<path fill="#16b6bf" d="M319.5 300h30.5v1h-30.5z"/>
<path fill="#15b3bc" d="M319.5 298h30.5v2h-30.5zM350 277h30v1h-30zM380 277h30v1h-30zM410 277h30v1h-30zM440 277h30v1h-30zM470 277h29.8v1h-29.8z"/>
<path fill="#13b0b9" d="M319.5 297h30.5v1h-30.5z"/>
<path fill="#12acb6" d="M319.5 295h30.5v2h-30.5z"/>
<path fill="#10a9b4" d="M319.5 293h30.5v2h-30.5z"/>
<path fill="#0ea6b1" d="M319.5 289h30.5v4h-30.5z"/>
<path fill="#0da2ae" d="M319.5 285h30.5v4h-30.5z"/>
<path fill="#0c9fab" d="M319.5 280h30.5v5h-30.5z"/>
<path fill="#0a9ca8" d="M319.5 277h30.5v3h-30.5z"/>
<rect x="319.5" y="276.6" width="180.3" height="204.9" fill="none" stroke="#262626" stroke-width="1"/>
<text class="b" font-size="9" text-anchor="end" transform="translate(337.52 491.9) rotate(-42)">HDLEC</text>
<text class="b" font-size="9" text-anchor="end" transform="translate(367.57 491.9) rotate(-42)">HUAEC</text>
<text class="b" font-size="9" text-anchor="end" transform="translate(397.62 491.9) rotate(-42)">HUVEC</text>
<text class="b" font-size="9" text-anchor="end" transform="translate(427.68 491.9) rotate(-42)">HCAEC</text>
<text class="b" font-size="9" text-anchor="end" transform="translate(457.73 491.9) rotate(-42)">SAT-SVF</text>
<text class="b" font-size="9" text-anchor="end" transform="translate(487.77 491.9) rotate(-42)">SMC-UA</text>
<path d="M334.52 481.5v2.7M364.57 481.5v2.7M394.62 481.5v2.7M424.68 481.5v2.7M454.73 481.5v2.7M484.77 481.5v2.7" stroke="#262626" stroke-width="1" fill="none"/>
<text font-size="12.5" text-anchor="middle" x="410.35" y="272.8">mRNAs</text>
<rect x="508.6" y="276.6" width="8.5" height="204.9" fill="url(#tg)" stroke="#222" stroke-width="1"/>
<text font-size="8.9" x="520.1" y="485">0</text>
<text font-size="8.9" x="520.1" y="434.1">2000</text>
<text font-size="8.9" x="520.1" y="383">4000</text>
<text font-size="8.9" x="520.1" y="332">6000</text>
<text font-size="8.9" x="520.1" y="280.4">8000</text>
<path d="M508.6 430.9h1.8M517.1 430.9h-1.8M508.6 379.8h1.8M517.1 379.8h-1.8M508.6 328.8h1.8M517.1 328.8h-1.8M508.6 277.2h1.8M517.1 277.2h-1.8" stroke="#111" stroke-width="0.8" fill="none"/>
<text class="b" font-size="14.2" x="4.8" y="16.3" style="stroke-width:.5px">A</text>
<text class="b" font-size="7.35" text-anchor="end" x="67.2" y="23.7" style="stroke-width:.15px">circProx1</text>
<text class="b" font-size="7.35" text-anchor="end" x="67.4" y="30.4" style="stroke-width:.15px">circZKSCAN1</text>
<text class="b" font-size="7.35" text-anchor="end" x="67.4" y="36.8" style="stroke-width:.15px">circPLXNA2</text>
<text class="b" font-size="7.35" text-anchor="end" x="67.4" y="61.7" style="stroke-width:.15px">circFKBP8</text>
<text class="b" font-size="7.35" text-anchor="end" x="67.2" y="68" style="stroke-width:.15px">circFIRRE</text>
<text class="b" font-size="7.35" text-anchor="end" x="66.3" y="181.2" style="stroke-width:.15px">circZMYND8_A</text>
<text class="b" font-size="7.35" text-anchor="end" x="66.8" y="187.7" style="stroke-width:.15px">circSERPINE1</text>
<text class="b" font-size="7.35" text-anchor="end" x="67" y="193.8" style="stroke-width:.15px">circLPAR1</text>
<text class="b" font-size="7.35" text-anchor="end" x="67.1" y="199.9" style="stroke-width:.15px">circHNRNPAB</text>
<text class="b" font-size="7.35" text-anchor="end" x="67.6" y="206.4" style="stroke-width:.15px">circHAS2</text>
<path d="M70.4 20.7H77" stroke="#111" stroke-width=".85" fill="none"/>
<path d="M80.2 20.7l-4.4 -1.9v3.8z" fill="#111"/>
<path d="M67.9 26.4C69.5 24.4 70.5 23.9 72.5 23.9H77" stroke="#111" stroke-width=".85" fill="none"/>
<path d="M80.2 23.9l-4.4 -1.9v3.8z" fill="#111"/>
<path d="M68 33C69.6 30.8 70.8 30.2 72.8 30.2H77" stroke="#111" stroke-width=".85" fill="none"/>
<path d="M80.2 30.2l-4.4 -1.9v3.8z" fill="#111"/>
<path d="M71.4 59.7H77" stroke="#111" stroke-width=".85" fill="none"/>
<path d="M80.2 59.7l-4.4 -1.9v3.8z" fill="#111"/>
<path d="M71.4 62.9H77" stroke="#111" stroke-width=".85" fill="none"/>
<path d="M80.2 62.9l-4.4 -1.9v3.8z" fill="#111"/>
<path d="M70.1 181.5H77" stroke="#111" stroke-width=".85" fill="none"/>
<path d="M79.9 181.5l-4.4 -1.9v3.8z" fill="#111"/>
<path d="M68.2 185.6C69.5 184 70 183.4 71.5 183.4H77" stroke="#111" stroke-width=".85" fill="none"/>
<path d="M79.9 183.4l-4.4 -1.9v3.8z" fill="#111"/>
<path d="M68.2 190.5C69.5 189 70 188.4 71.5 188.4H77" stroke="#111" stroke-width=".85" fill="none"/>
<path d="M79.9 188.4l-4.4 -1.9v3.8z" fill="#111"/>
<path d="M68.2 193C69.7 191.2 70.3 190.4 71.8 190.4H77" stroke="#111" stroke-width=".85" fill="none"/>
<path d="M79.9 190.4l-4.4 -1.9v3.8z" fill="#111"/>
<path d="M71 202.8H77" stroke="#111" stroke-width=".85" fill="none"/>
<path d="M80 202.8l-4.4 -1.9v3.8z" fill="#111"/>
<text class="b" font-size="14" x="5.4" y="544.6" style="stroke-width:.5px">B</text>
<rect x="84.5" y="544.5" width="26" height="26" fill="#0a5c9e"/>
<rect x="110.5" y="544.5" width="27" height="26" fill="#3a9ec8"/>
<rect x="137.5" y="544.5" width="26" height="26" fill="#117fb6"/>
<rect x="163.5" y="544.5" width="27" height="26" fill="#ecf4f9"/>
<rect x="190.5" y="544.5" width="26" height="26" fill="#fbfdfe"/>
<rect x="216.5" y="544.5" width="27" height="26" fill="#61b1d3"/>
<rect x="84.5" y="570.5" width="26" height="26" fill="#3a9ec8"/>
<rect x="110.5" y="570.5" width="27" height="26" fill="#0a5c9e"/>
<rect x="137.5" y="570.5" width="26" height="26" fill="#1786ba"/>
<rect x="163.5" y="570.5" width="27" height="26" fill="#ecf4f9"/>
<rect x="190.5" y="570.5" width="26" height="26" fill="#fbfdfe"/>
<rect x="216.5" y="570.5" width="27" height="26" fill="#3ea0c9"/>
<rect x="84.5" y="596.5" width="26" height="26" fill="#117fb6"/>
<rect x="110.5" y="596.5" width="27" height="26" fill="#1786ba"/>
<rect x="137.5" y="596.5" width="26" height="26" fill="#0a5c9e"/>
<rect x="163.5" y="596.5" width="27" height="26" fill="#e9f3f8"/>
<rect x="190.5" y="596.5" width="26" height="26" fill="#f7fbfd"/>
<rect x="216.5" y="596.5" width="27" height="26" fill="#3ea0c9"/>
<rect x="84.5" y="622.5" width="26" height="26" fill="#ecf4f9"/>
<rect x="110.5" y="622.5" width="27" height="26" fill="#ecf4f9"/>
<rect x="137.5" y="622.5" width="26" height="26" fill="#e9f3f8"/>
<rect x="163.5" y="622.5" width="27" height="26" fill="#0a5c9e"/>
<rect x="190.5" y="622.5" width="26" height="26" fill="#a8d2e6"/>
<rect x="216.5" y="622.5" width="27" height="26" fill="#fefdfd"/>
<rect x="84.5" y="648.5" width="26" height="26" fill="#fbfdfe"/>
<rect x="110.5" y="648.5" width="27" height="26" fill="#fbfdfe"/>
<rect x="137.5" y="648.5" width="26" height="26" fill="#f7fbfd"/>
<rect x="163.5" y="648.5" width="27" height="26" fill="#a8d2e6"/>
<rect x="190.5" y="648.5" width="26" height="26" fill="#0a5c9e"/>
<rect x="216.5" y="648.5" width="27" height="26" fill="#f4f8fb"/>
<rect x="84.5" y="674.5" width="26" height="26" fill="#61b1d3"/>
<rect x="110.5" y="674.5" width="27" height="26" fill="#3ea0c9"/>
<rect x="137.5" y="674.5" width="26" height="26" fill="#3ea0c9"/>
<rect x="163.5" y="674.5" width="27" height="26" fill="#fefdfd"/>
<rect x="190.5" y="674.5" width="26" height="26" fill="#f4f8fb"/>
<rect x="216.5" y="674.5" width="27" height="26" fill="#0a5c9e"/>
<path d="M110.5 544.5V700.5M84.5 570.5H243.5M137.5 544.5V700.5M84.5 596.5H243.5M163.5 544.5V700.5M84.5 622.5H243.5M190.5 544.5V700.5M84.5 648.5H243.5M216.5 544.5V700.5M84.5 674.5H243.5" stroke="#0b0b0b" stroke-width="1" fill="none"/>
<rect x="84.5" y="544.5" width="159" height="156" fill="none" stroke="#0b0b0b" stroke-width="1.4"/>
<text font-size="9.8" text-anchor="middle" x="98.22" y="560.78" style="fill:#fff;stroke:#fff;stroke-width:.2px">1.00</text>
<text font-size="9.8" text-anchor="middle" x="124.67" y="560.78" style="fill:#151515;stroke:#151515;stroke-width:.2px">0.60</text>
<text font-size="9.8" text-anchor="middle" x="151.12" y="560.78" style="fill:#151515;stroke:#151515;stroke-width:.2px">0.77</text>
<text font-size="9.8" text-anchor="middle" x="177.58" y="560.78" style="fill:#151515;stroke:#151515;stroke-width:.2px">0.05</text>
<text font-size="9.8" text-anchor="middle" x="204.03" y="560.78" style="fill:#151515;stroke:#151515;stroke-width:.2px">0.01</text>
<text font-size="9.8" text-anchor="middle" x="230.47" y="560.78" style="fill:#151515;stroke:#151515;stroke-width:.2px">0.49</text>
<text font-size="9.8" text-anchor="middle" x="98.22" y="586.85" style="fill:#151515;stroke:#151515;stroke-width:.2px">0.60</text>
<text font-size="9.8" text-anchor="middle" x="124.67" y="586.85" style="fill:#fff;stroke:#fff;stroke-width:.2px">1.00</text>
<text font-size="9.8" text-anchor="middle" x="151.12" y="586.85" style="fill:#151515;stroke:#151515;stroke-width:.2px">0.73</text>
<text font-size="9.8" text-anchor="middle" x="177.58" y="586.85" style="fill:#151515;stroke:#151515;stroke-width:.2px">0.05</text>
<text font-size="9.8" text-anchor="middle" x="204.03" y="586.85" style="fill:#151515;stroke:#151515;stroke-width:.2px">0.01</text>
<text font-size="9.8" text-anchor="middle" x="230.47" y="586.85" style="fill:#151515;stroke:#151515;stroke-width:.2px">0.59</text>
<text font-size="9.8" text-anchor="middle" x="98.22" y="612.92" style="fill:#151515;stroke:#151515;stroke-width:.2px">0.77</text>
<text font-size="9.8" text-anchor="middle" x="124.67" y="612.92" style="fill:#151515;stroke:#151515;stroke-width:.2px">0.73</text>
<text font-size="9.8" text-anchor="middle" x="151.12" y="612.92" style="fill:#fff;stroke:#fff;stroke-width:.2px">1.00</text>
<text font-size="9.8" text-anchor="middle" x="177.58" y="612.92" style="fill:#151515;stroke:#151515;stroke-width:.2px">0.06</text>
<text font-size="9.8" text-anchor="middle" x="204.03" y="612.92" style="fill:#151515;stroke:#151515;stroke-width:.2px">0.02</text>
<text font-size="9.8" text-anchor="middle" x="230.47" y="612.92" style="fill:#151515;stroke:#151515;stroke-width:.2px">0.59</text>
<text font-size="9.8" text-anchor="middle" x="98.22" y="638.98" style="fill:#151515;stroke:#151515;stroke-width:.2px">0.05</text>
<text font-size="9.8" text-anchor="middle" x="124.67" y="638.98" style="fill:#151515;stroke:#151515;stroke-width:.2px">0.05</text>
<text font-size="9.8" text-anchor="middle" x="151.12" y="638.98" style="fill:#151515;stroke:#151515;stroke-width:.2px">0.06</text>
<text font-size="9.8" text-anchor="middle" x="177.58" y="638.98" style="fill:#fff;stroke:#fff;stroke-width:.2px">1.00</text>
<text font-size="9.8" text-anchor="middle" x="204.03" y="638.98" style="fill:#151515;stroke:#151515;stroke-width:.2px">0.28</text>
<text font-size="9.8" text-anchor="middle" x="229.97" y="638.98" style="fill:#151515;stroke:#151515;stroke-width:.2px">-0.01</text>
<text font-size="9.8" text-anchor="middle" x="98.22" y="665.05" style="fill:#151515;stroke:#151515;stroke-width:.2px">0.01</text>
<text font-size="9.8" text-anchor="middle" x="124.67" y="665.05" style="fill:#151515;stroke:#151515;stroke-width:.2px">0.01</text>
<text font-size="9.8" text-anchor="middle" x="151.12" y="665.05" style="fill:#151515;stroke:#151515;stroke-width:.2px">0.02</text>
<text font-size="9.8" text-anchor="middle" x="177.58" y="665.05" style="fill:#151515;stroke:#151515;stroke-width:.2px">0.28</text>
<text font-size="9.8" text-anchor="middle" x="204.03" y="665.05" style="fill:#fff;stroke:#fff;stroke-width:.2px">1.00</text>
<text font-size="9.8" text-anchor="middle" x="230.47" y="665.05" style="fill:#151515;stroke:#151515;stroke-width:.2px">0.03</text>
<text font-size="9.8" text-anchor="middle" x="98.22" y="691.12" style="fill:#151515;stroke:#151515;stroke-width:.2px">0.49</text>
<text font-size="9.8" text-anchor="middle" x="124.67" y="691.12" style="fill:#151515;stroke:#151515;stroke-width:.2px">0.59</text>
<text font-size="9.8" text-anchor="middle" x="151.12" y="691.12" style="fill:#151515;stroke:#151515;stroke-width:.2px">0.59</text>
<text font-size="9.8" text-anchor="middle" x="177.08" y="691.12" style="fill:#151515;stroke:#151515;stroke-width:.2px">-0.01</text>
<text font-size="9.8" text-anchor="middle" x="204.03" y="691.12" style="fill:#151515;stroke:#151515;stroke-width:.2px">0.03</text>
<text font-size="9.8" text-anchor="middle" x="230.47" y="691.12" style="fill:#fff;stroke:#fff;stroke-width:.2px">1.00</text>
<text class="b" font-size="9.5" text-anchor="end" x="81.2" y="560.73">HDLEC</text>
<text class="b" font-size="9.5" text-anchor="end" x="81.2" y="586.8">HUAEC</text>
<text class="b" font-size="9.5" text-anchor="end" x="81.2" y="612.87">HUVEC</text>
<text class="b" font-size="9.5" text-anchor="end" x="81.2" y="638.93">HCAEC</text>
<text class="b" font-size="9.5" text-anchor="end" x="81.2" y="665">SAT-SVF</text>
<text class="b" font-size="9.5" text-anchor="end" x="81.2" y="691.07">SMC-UA</text>
<text font-size="12.5" text-anchor="middle" x="163.75" y="538.3">circRNAs</text>
<rect x="253.8" y="544.2" width="9.5" height="156.4" fill="url(#bg)" stroke="#0b0b0b" stroke-width="1.4"/>
<text font-size="9.8" x="267.6" y="547.65">1.0</text>
<text font-size="9.8" x="267.6" y="586.75">0.5</text>
<text font-size="9.8" x="267.6" y="625.85">0</text>
<text font-size="9.8" x="267.6" y="664.95">-0.5</text>
<text font-size="9.8" x="267.6" y="704.05">-1.0</text>
<path d="M253.8 583.3h2M263.3 583.3h-2M253.8 622.4h2M263.3 622.4h-2M253.8 661.5h2M263.3 661.5h-2" stroke="#0b0b0b" stroke-width="0.9" fill="none"/>
<rect x="329.5" y="543.5" width="26" height="26" fill="#0a5c9e"/>
<rect x="355.5" y="543.5" width="27" height="26" fill="#cbe4f0"/>
<rect x="382.5" y="543.5" width="26" height="26" fill="#b7d9ea"/>
<rect x="408.5" y="543.5" width="27" height="26" fill="#fefdfd"/>
<rect x="435.5" y="543.5" width="26" height="26" fill="#fefdfd"/>
<rect x="461.5" y="543.5" width="27" height="26" fill="#fbfdfe"/>
<rect x="329.5" y="569.5" width="26" height="26" fill="#cbe4f0"/>
<rect x="355.5" y="569.5" width="27" height="26" fill="#0a5c9e"/>
<rect x="382.5" y="569.5" width="26" height="26" fill="#ddedf5"/>
<rect x="408.5" y="569.5" width="27" height="26" fill="#fefdfd"/>
<rect x="435.5" y="569.5" width="26" height="26" fill="#fefafa"/>
<rect x="461.5" y="569.5" width="27" height="26" fill="#f7fbfd"/>
<rect x="329.5" y="595.5" width="26" height="26" fill="#b7d9ea"/>
<rect x="355.5" y="595.5" width="27" height="26" fill="#ddedf5"/>
<rect x="382.5" y="595.5" width="26" height="26" fill="#0a5c9e"/>
<rect x="408.5" y="595.5" width="27" height="26" fill="#a1cfe4"/>
<rect x="435.5" y="595.5" width="26" height="26" fill="#7cbdda"/>
<rect x="461.5" y="595.5" width="27" height="26" fill="#fbfdfe"/>
<rect x="329.5" y="621.5" width="26" height="27" fill="#fefdfd"/>
<rect x="355.5" y="621.5" width="27" height="27" fill="#fefdfd"/>
<rect x="382.5" y="621.5" width="26" height="27" fill="#a1cfe4"/>
<rect x="408.5" y="621.5" width="27" height="27" fill="#0a5c9e"/>
<rect x="435.5" y="621.5" width="26" height="27" fill="#c6e1ee"/>
<rect x="461.5" y="621.5" width="27" height="27" fill="#fefdfd"/>
<rect x="329.5" y="648.5" width="26" height="26" fill="#fefdfd"/>
<rect x="355.5" y="648.5" width="27" height="26" fill="#fefafa"/>
<rect x="382.5" y="648.5" width="26" height="26" fill="#7cbdda"/>
<rect x="408.5" y="648.5" width="27" height="26" fill="#c6e1ee"/>
<rect x="435.5" y="648.5" width="26" height="26" fill="#0a5c9e"/>
<rect x="461.5" y="648.5" width="27" height="26" fill="#fefdfd"/>
<rect x="329.5" y="674.5" width="26" height="26" fill="#fbfdfe"/>
<rect x="355.5" y="674.5" width="27" height="26" fill="#f7fbfd"/>
<rect x="382.5" y="674.5" width="26" height="26" fill="#fbfdfe"/>
<rect x="408.5" y="674.5" width="27" height="26" fill="#fefdfd"/>
<rect x="435.5" y="674.5" width="26" height="26" fill="#fefdfd"/>
<rect x="461.5" y="674.5" width="27" height="26" fill="#0a5c9e"/>
<path d="M355.5 543.5V700.5M329.5 569.5H488.5M382.5 543.5V700.5M329.5 595.5H488.5M408.5 543.5V700.5M329.5 621.5H488.5M435.5 543.5V700.5M329.5 648.5H488.5M461.5 543.5V700.5M329.5 674.5H488.5" stroke="#0b0b0b" stroke-width="1" fill="none"/>
<rect x="329.5" y="543.5" width="159" height="157" fill="none" stroke="#0b0b0b" stroke-width="1.4"/>
<text font-size="9.8" text-anchor="middle" x="343.23" y="559.86" style="fill:#fff;stroke:#fff;stroke-width:.2px">1.00</text>
<text font-size="9.8" text-anchor="middle" x="369.68" y="559.86" style="fill:#151515;stroke:#151515;stroke-width:.2px">0.16</text>
<text font-size="9.8" text-anchor="middle" x="396.12" y="559.86" style="fill:#151515;stroke:#151515;stroke-width:.2px">0.23</text>
<text font-size="9.8" text-anchor="middle" x="422.08" y="559.86" style="fill:#151515;stroke:#151515;stroke-width:.2px">-0.01</text>
<text font-size="9.8" text-anchor="middle" x="448.53" y="559.86" style="fill:#151515;stroke:#151515;stroke-width:.2px">-0.01</text>
<text font-size="9.8" text-anchor="middle" x="475.48" y="559.86" style="fill:#151515;stroke:#151515;stroke-width:.2px">0.01</text>
<text font-size="9.8" text-anchor="middle" x="343.23" y="586.08" style="fill:#151515;stroke:#151515;stroke-width:.2px">0.16</text>
<text font-size="9.8" text-anchor="middle" x="369.68" y="586.08" style="fill:#fff;stroke:#fff;stroke-width:.2px">1.00</text>
<text font-size="9.8" text-anchor="middle" x="396.12" y="586.08" style="fill:#151515;stroke:#151515;stroke-width:.2px">0.10</text>
<text font-size="9.8" text-anchor="middle" x="422.08" y="586.08" style="fill:#151515;stroke:#151515;stroke-width:.2px">-0.01</text>
<text font-size="9.8" text-anchor="middle" x="448.53" y="586.08" style="fill:#151515;stroke:#151515;stroke-width:.2px">-0.02</text>
<text font-size="9.8" text-anchor="middle" x="475.48" y="586.08" style="fill:#151515;stroke:#151515;stroke-width:.2px">0.02</text>
<text font-size="9.8" text-anchor="middle" x="343.23" y="612.29" style="fill:#151515;stroke:#151515;stroke-width:.2px">0.23</text>
<text font-size="9.8" text-anchor="middle" x="369.68" y="612.29" style="fill:#151515;stroke:#151515;stroke-width:.2px">0.10</text>
<text font-size="9.8" text-anchor="middle" x="396.12" y="612.29" style="fill:#fff;stroke:#fff;stroke-width:.2px">1.00</text>
<text font-size="9.8" text-anchor="middle" x="422.58" y="612.29" style="fill:#151515;stroke:#151515;stroke-width:.2px">0.30</text>
<text font-size="9.8" text-anchor="middle" x="449.03" y="612.29" style="fill:#151515;stroke:#151515;stroke-width:.2px">0.41</text>
<text font-size="9.8" text-anchor="middle" x="475.48" y="612.29" style="fill:#151515;stroke:#151515;stroke-width:.2px">0.01</text>
<text font-size="9.8" text-anchor="middle" x="342.73" y="638.51" style="fill:#151515;stroke:#151515;stroke-width:.2px">-0.01</text>
<text font-size="9.8" text-anchor="middle" x="369.18" y="638.51" style="fill:#151515;stroke:#151515;stroke-width:.2px">-0.01</text>
<text font-size="9.8" text-anchor="middle" x="396.12" y="638.51" style="fill:#151515;stroke:#151515;stroke-width:.2px">0.30</text>
<text font-size="9.8" text-anchor="middle" x="422.58" y="638.51" style="fill:#fff;stroke:#fff;stroke-width:.2px">1.00</text>
<text font-size="9.8" text-anchor="middle" x="449.03" y="638.51" style="fill:#151515;stroke:#151515;stroke-width:.2px">0.18</text>
<text font-size="9.8" text-anchor="middle" x="474.98" y="638.51" style="fill:#151515;stroke:#151515;stroke-width:.2px">-0.01</text>
<text font-size="9.8" text-anchor="middle" x="342.73" y="664.72" style="fill:#151515;stroke:#151515;stroke-width:.2px">-0.01</text>
<text font-size="9.8" text-anchor="middle" x="369.18" y="664.72" style="fill:#151515;stroke:#151515;stroke-width:.2px">-0.02</text>
<text font-size="9.8" text-anchor="middle" x="396.12" y="664.72" style="fill:#151515;stroke:#151515;stroke-width:.2px">0.41</text>
<text font-size="9.8" text-anchor="middle" x="422.58" y="664.72" style="fill:#151515;stroke:#151515;stroke-width:.2px">0.18</text>
<text font-size="9.8" text-anchor="middle" x="449.03" y="664.72" style="fill:#fff;stroke:#fff;stroke-width:.2px">1.00</text>
<text font-size="9.8" text-anchor="middle" x="474.98" y="664.72" style="fill:#151515;stroke:#151515;stroke-width:.2px">-0.01</text>
<text font-size="9.8" text-anchor="middle" x="343.23" y="690.94" style="fill:#151515;stroke:#151515;stroke-width:.2px">0.01</text>
<text font-size="9.8" text-anchor="middle" x="369.68" y="690.94" style="fill:#151515;stroke:#151515;stroke-width:.2px">0.02</text>
<text font-size="9.8" text-anchor="middle" x="396.12" y="690.94" style="fill:#151515;stroke:#151515;stroke-width:.2px">0.01</text>
<text font-size="9.8" text-anchor="middle" x="422.08" y="690.94" style="fill:#151515;stroke:#151515;stroke-width:.2px">-0.01</text>
<text font-size="9.8" text-anchor="middle" x="448.53" y="690.94" style="fill:#151515;stroke:#151515;stroke-width:.2px">-0.01</text>
<text font-size="9.8" text-anchor="middle" x="475.48" y="690.94" style="fill:#fff;stroke:#fff;stroke-width:.2px">1.00</text>
<text font-size="12.5" text-anchor="middle" x="408.75" y="538.4">matched linear RNAs</text>
<rect x="498.6" y="543.2" width="8.9" height="157.3" fill="url(#bg)" stroke="#0b0b0b" stroke-width="1.4"/>
<text font-size="9.8" x="512.5" y="546.65">1.0</text>
<text font-size="9.8" x="512.5" y="585.98">0.5</text>
<text font-size="9.8" x="512.5" y="625.3">0</text>
<text font-size="9.8" x="512.5" y="664.62">-0.5</text>
<text font-size="9.8" x="512.5" y="703.95">-1.0</text>
<path d="M498.6 582.53h2M507.5 582.53h-2M498.6 621.85h2M507.5 621.85h-2M498.6 661.17h2M507.5 661.17h-2" stroke="#0b0b0b" stroke-width="0.9" fill="none"/>
<rect x="84.5" y="725.5" width="26" height="26" fill="#0a5c9e"/>
<rect x="110.5" y="725.5" width="27" height="26" fill="#0b62a2"/>
<rect x="137.5" y="725.5" width="27" height="26" fill="#0c6aa6"/>
<rect x="164.5" y="725.5" width="26" height="26" fill="#e6f1f7"/>
<rect x="190.5" y="725.5" width="27" height="26" fill="#daebf4"/>
<rect x="217.5" y="725.5" width="26" height="26" fill="#0c67a5"/>
<rect x="84.5" y="751.5" width="26" height="27" fill="#0b62a2"/>
<rect x="110.5" y="751.5" width="27" height="27" fill="#0a5c9e"/>
<rect x="137.5" y="751.5" width="27" height="27" fill="#0f78b0"/>
<rect x="164.5" y="751.5" width="26" height="27" fill="#f7fbfd"/>
<rect x="190.5" y="751.5" width="27" height="27" fill="#fbfdfe"/>
<rect x="217.5" y="751.5" width="26" height="27" fill="#0b62a2"/>
<rect x="84.5" y="778.5" width="26" height="26" fill="#0c6aa6"/>
<rect x="110.5" y="778.5" width="27" height="26" fill="#0f78b0"/>
<rect x="137.5" y="778.5" width="27" height="26" fill="#0a5c9e"/>
<rect x="164.5" y="778.5" width="26" height="26" fill="#8dc5df"/>
<rect x="190.5" y="778.5" width="27" height="26" fill="#9bcce2"/>
<rect x="217.5" y="778.5" width="26" height="26" fill="#0f76ae"/>
<rect x="84.5" y="804.5" width="26" height="26" fill="#e6f1f7"/>
<rect x="110.5" y="804.5" width="27" height="26" fill="#f7fbfd"/>
<rect x="137.5" y="804.5" width="27" height="26" fill="#8dc5df"/>
<rect x="164.5" y="804.5" width="26" height="26" fill="#0a5c9e"/>
<rect x="190.5" y="804.5" width="27" height="26" fill="#b1d6e8"/>
<rect x="217.5" y="804.5" width="26" height="26" fill="#ddedf5"/>
<rect x="84.5" y="830.5" width="26" height="26" fill="#daebf4"/>
<rect x="110.5" y="830.5" width="27" height="26" fill="#fbfdfe"/>
<rect x="137.5" y="830.5" width="27" height="26" fill="#9bcce2"/>
<rect x="164.5" y="830.5" width="26" height="26" fill="#b1d6e8"/>
<rect x="190.5" y="830.5" width="27" height="26" fill="#0a5c9e"/>
<rect x="217.5" y="830.5" width="26" height="26" fill="#e9f3f8"/>
<rect x="84.5" y="856.5" width="26" height="27" fill="#0c67a5"/>
<rect x="110.5" y="856.5" width="27" height="27" fill="#0b62a2"/>
<rect x="137.5" y="856.5" width="27" height="27" fill="#0f76ae"/>
<rect x="164.5" y="856.5" width="26" height="27" fill="#ddedf5"/>
<rect x="190.5" y="856.5" width="27" height="27" fill="#e9f3f8"/>
<rect x="217.5" y="856.5" width="26" height="27" fill="#0a5c9e"/>
<path d="M110.5 725.5V883.5M84.5 751.5H243.5M137.5 725.5V883.5M84.5 778.5H243.5M164.5 725.5V883.5M84.5 804.5H243.5M190.5 725.5V883.5M84.5 830.5H243.5M217.5 725.5V883.5M84.5 856.5H243.5" stroke="#0b0b0b" stroke-width="1" fill="none"/>
<rect x="84.5" y="725.5" width="159" height="158" fill="none" stroke="#0b0b0b" stroke-width="1.4"/>
<text font-size="9.8" text-anchor="middle" x="98.28" y="742.17" style="fill:#fff;stroke:#fff;stroke-width:.2px">1.00</text>
<text font-size="9.8" text-anchor="middle" x="124.82" y="742.17" style="fill:#fff;stroke:#fff;stroke-width:.2px">0.96</text>
<text font-size="9.8" text-anchor="middle" x="151.38" y="742.17" style="fill:#fff;stroke:#fff;stroke-width:.2px">0.91</text>
<text font-size="9.8" text-anchor="middle" x="177.92" y="742.17" style="fill:#151515;stroke:#151515;stroke-width:.2px">0.07</text>
<text font-size="9.8" text-anchor="middle" x="204.47" y="742.17" style="fill:#151515;stroke:#151515;stroke-width:.2px">0.11</text>
<text font-size="9.8" text-anchor="middle" x="231.02" y="742.17" style="fill:#fff;stroke:#fff;stroke-width:.2px">0.93</text>
<text font-size="9.8" text-anchor="middle" x="98.28" y="768.42" style="fill:#fff;stroke:#fff;stroke-width:.2px">0.96</text>
<text font-size="9.8" text-anchor="middle" x="124.82" y="768.42" style="fill:#fff;stroke:#fff;stroke-width:.2px">1.00</text>
<text font-size="9.8" text-anchor="middle" x="151.38" y="768.42" style="fill:#151515;stroke:#151515;stroke-width:.2px">0.82</text>
<text font-size="9.8" text-anchor="middle" x="177.92" y="768.42" style="fill:#151515;stroke:#151515;stroke-width:.2px">0.02</text>
<text font-size="9.8" text-anchor="middle" x="204.47" y="768.42" style="fill:#151515;stroke:#151515;stroke-width:.2px">0.01</text>
<text font-size="9.8" text-anchor="middle" x="231.02" y="768.42" style="fill:#fff;stroke:#fff;stroke-width:.2px">0.96</text>
<text font-size="9.8" text-anchor="middle" x="98.28" y="794.67" style="fill:#fff;stroke:#fff;stroke-width:.2px">0.91</text>
<text font-size="9.8" text-anchor="middle" x="124.82" y="794.67" style="fill:#151515;stroke:#151515;stroke-width:.2px">0.82</text>
<text font-size="9.8" text-anchor="middle" x="151.38" y="794.67" style="fill:#fff;stroke:#fff;stroke-width:.2px">1.00</text>
<text font-size="9.8" text-anchor="middle" x="177.92" y="794.67" style="fill:#151515;stroke:#151515;stroke-width:.2px">0.36</text>
<text font-size="9.8" text-anchor="middle" x="204.47" y="794.67" style="fill:#151515;stroke:#151515;stroke-width:.2px">0.32</text>
<text font-size="9.8" text-anchor="middle" x="231.02" y="794.67" style="fill:#fff;stroke:#fff;stroke-width:.2px">0.83</text>
<text font-size="9.8" text-anchor="middle" x="98.28" y="820.92" style="fill:#151515;stroke:#151515;stroke-width:.2px">0.07</text>
<text font-size="9.8" text-anchor="middle" x="124.82" y="820.92" style="fill:#151515;stroke:#151515;stroke-width:.2px">0.02</text>
<text font-size="9.8" text-anchor="middle" x="151.38" y="820.92" style="fill:#151515;stroke:#151515;stroke-width:.2px">0.36</text>
<text font-size="9.8" text-anchor="middle" x="177.92" y="820.92" style="fill:#fff;stroke:#fff;stroke-width:.2px">1.00</text>
<text font-size="9.8" text-anchor="middle" x="204.47" y="820.92" style="fill:#151515;stroke:#151515;stroke-width:.2px">0.25</text>
<text font-size="9.8" text-anchor="middle" x="231.02" y="820.92" style="fill:#151515;stroke:#151515;stroke-width:.2px">0.10</text>
<text font-size="9.8" text-anchor="middle" x="98.28" y="847.17" style="fill:#151515;stroke:#151515;stroke-width:.2px">0.11</text>
<text font-size="9.8" text-anchor="middle" x="124.82" y="847.17" style="fill:#151515;stroke:#151515;stroke-width:.2px">0.01</text>
<text font-size="9.8" text-anchor="middle" x="151.38" y="847.17" style="fill:#151515;stroke:#151515;stroke-width:.2px">0.32</text>
<text font-size="9.8" text-anchor="middle" x="177.92" y="847.17" style="fill:#151515;stroke:#151515;stroke-width:.2px">0.25</text>
<text font-size="9.8" text-anchor="middle" x="204.47" y="847.17" style="fill:#fff;stroke:#fff;stroke-width:.2px">1.00</text>
<text font-size="9.8" text-anchor="middle" x="231.02" y="847.17" style="fill:#151515;stroke:#151515;stroke-width:.2px">0.06</text>
<text font-size="9.8" text-anchor="middle" x="98.28" y="873.42" style="fill:#fff;stroke:#fff;stroke-width:.2px">0.93</text>
<text font-size="9.8" text-anchor="middle" x="124.82" y="873.42" style="fill:#fff;stroke:#fff;stroke-width:.2px">0.96</text>
<text font-size="9.8" text-anchor="middle" x="151.38" y="873.42" style="fill:#fff;stroke:#fff;stroke-width:.2px">0.83</text>
<text font-size="9.8" text-anchor="middle" x="177.92" y="873.42" style="fill:#151515;stroke:#151515;stroke-width:.2px">0.10</text>
<text font-size="9.8" text-anchor="middle" x="204.47" y="873.42" style="fill:#151515;stroke:#151515;stroke-width:.2px">0.06</text>
<text font-size="9.8" text-anchor="middle" x="231.02" y="873.42" style="fill:#fff;stroke:#fff;stroke-width:.2px">1.00</text>
<text font-size="12.5" text-anchor="middle" x="164.05" y="721">lncRNAs</text>
<rect x="253.2" y="725.5" width="10" height="157.5" fill="url(#bg)" stroke="#0b0b0b" stroke-width="1.4"/>
<text font-size="9.8" x="268" y="728.95">1.0</text>
<text font-size="9.8" x="268" y="768.33">0.5</text>
<text font-size="9.8" x="268" y="807.7">0</text>
<text font-size="9.8" x="268" y="847.08">-0.5</text>
<text font-size="9.8" x="268" y="886.45">-1.0</text>
<path d="M253.2 764.88h2M263.2 764.88h-2M253.2 804.25h2M263.2 804.25h-2M253.2 843.62h2M263.2 843.62h-2" stroke="#0b0b0b" stroke-width="0.9" fill="none"/>
<rect x="331.5" y="725.5" width="26" height="26" fill="#0a5c9e"/>
<rect x="357.5" y="725.5" width="27" height="26" fill="#1786ba"/>
<rect x="384.5" y="725.5" width="26" height="26" fill="#117eb4"/>
<rect x="410.5" y="725.5" width="27" height="26" fill="#4ca6cd"/>
<rect x="437.5" y="725.5" width="26" height="26" fill="#6bb5d6"/>
<rect x="463.5" y="725.5" width="27" height="26" fill="#9bcce2"/>
<rect x="331.5" y="751.5" width="26" height="27" fill="#1786ba"/>
<rect x="357.5" y="751.5" width="27" height="27" fill="#0a5c9e"/>
<rect x="384.5" y="751.5" width="26" height="27" fill="#0e74ad"/>
<rect x="410.5" y="751.5" width="27" height="27" fill="#3a9ec8"/>
<rect x="437.5" y="751.5" width="26" height="27" fill="#80bfdb"/>
<rect x="463.5" y="751.5" width="27" height="27" fill="#6bb5d6"/>
<rect x="331.5" y="778.5" width="26" height="26" fill="#117eb4"/>
<rect x="357.5" y="778.5" width="27" height="26" fill="#0e74ad"/>
<rect x="384.5" y="778.5" width="26" height="26" fill="#0a5c9e"/>
<rect x="410.5" y="778.5" width="27" height="26" fill="#1280b7"/>
<rect x="437.5" y="778.5" width="26" height="26" fill="#41a1ca"/>
<rect x="463.5" y="778.5" width="27" height="26" fill="#86c2dd"/>
<rect x="331.5" y="804.5" width="26" height="26" fill="#4ca6cd"/>
<rect x="357.5" y="804.5" width="27" height="26" fill="#3a9ec8"/>
<rect x="384.5" y="804.5" width="26" height="26" fill="#1280b7"/>
<rect x="410.5" y="804.5" width="27" height="26" fill="#0a5c9e"/>
<rect x="437.5" y="804.5" width="26" height="26" fill="#1280b7"/>
<rect x="463.5" y="804.5" width="27" height="26" fill="#97cae1"/>
<rect x="331.5" y="830.5" width="26" height="26" fill="#6bb5d6"/>
<rect x="357.5" y="830.5" width="27" height="26" fill="#80bfdb"/>
<rect x="384.5" y="830.5" width="26" height="26" fill="#41a1ca"/>
<rect x="410.5" y="830.5" width="27" height="26" fill="#1280b7"/>
<rect x="437.5" y="830.5" width="26" height="26" fill="#0a5c9e"/>
<rect x="463.5" y="830.5" width="27" height="26" fill="#8dc5df"/>
<rect x="331.5" y="856.5" width="26" height="27" fill="#9bcce2"/>
<rect x="357.5" y="856.5" width="27" height="27" fill="#6bb5d6"/>
<rect x="384.5" y="856.5" width="26" height="27" fill="#86c2dd"/>
<rect x="410.5" y="856.5" width="27" height="27" fill="#97cae1"/>
<rect x="437.5" y="856.5" width="26" height="27" fill="#8dc5df"/>
<rect x="463.5" y="856.5" width="27" height="27" fill="#0a5c9e"/>
<path d="M357.5 725.5V883.5M331.5 751.5H490.5M384.5 725.5V883.5M331.5 778.5H490.5M410.5 725.5V883.5M331.5 804.5H490.5M437.5 725.5V883.5M331.5 830.5H490.5M463.5 725.5V883.5M331.5 856.5H490.5" stroke="#0b0b0b" stroke-width="1" fill="none"/>
<rect x="331.5" y="725.5" width="159" height="158" fill="none" stroke="#0b0b0b" stroke-width="1.4"/>
<text font-size="9.8" text-anchor="middle" x="345.32" y="742.17" style="fill:#fff;stroke:#fff;stroke-width:.2px">1.00</text>
<text font-size="9.8" text-anchor="middle" x="371.75" y="742.17" style="fill:#151515;stroke:#151515;stroke-width:.2px">0.73</text>
<text font-size="9.8" text-anchor="middle" x="398.18" y="742.17" style="fill:#151515;stroke:#151515;stroke-width:.2px">0.78</text>
<text font-size="9.8" text-anchor="middle" x="424.62" y="742.17" style="fill:#151515;stroke:#151515;stroke-width:.2px">0.55</text>
<text font-size="9.8" text-anchor="middle" x="451.05" y="742.17" style="fill:#151515;stroke:#151515;stroke-width:.2px">0.46</text>
<text font-size="9.8" text-anchor="middle" x="477.48" y="742.17" style="fill:#151515;stroke:#151515;stroke-width:.2px">0.32</text>
<text font-size="9.8" text-anchor="middle" x="345.32" y="768.42" style="fill:#151515;stroke:#151515;stroke-width:.2px">0.73</text>
<text font-size="9.8" text-anchor="middle" x="371.75" y="768.42" style="fill:#fff;stroke:#fff;stroke-width:.2px">1.00</text>
<text font-size="9.8" text-anchor="middle" x="398.18" y="768.42" style="fill:#fff;stroke:#fff;stroke-width:.2px">0.84</text>
<text font-size="9.8" text-anchor="middle" x="424.62" y="768.42" style="fill:#151515;stroke:#151515;stroke-width:.2px">0.60</text>
<text font-size="9.8" text-anchor="middle" x="451.05" y="768.42" style="fill:#151515;stroke:#151515;stroke-width:.2px">0.40</text>
<text font-size="9.8" text-anchor="middle" x="477.48" y="768.42" style="fill:#151515;stroke:#151515;stroke-width:.2px">0.46</text>
<text font-size="9.8" text-anchor="middle" x="345.32" y="794.67" style="fill:#151515;stroke:#151515;stroke-width:.2px">0.78</text>
<text font-size="9.8" text-anchor="middle" x="371.75" y="794.67" style="fill:#fff;stroke:#fff;stroke-width:.2px">0.84</text>
<text font-size="9.8" text-anchor="middle" x="398.18" y="794.67" style="fill:#fff;stroke:#fff;stroke-width:.2px">1.00</text>
<text font-size="9.8" text-anchor="middle" x="424.62" y="794.67" style="fill:#151515;stroke:#151515;stroke-width:.2px">0.76</text>
<text font-size="9.8" text-anchor="middle" x="451.05" y="794.67" style="fill:#151515;stroke:#151515;stroke-width:.2px">0.58</text>
<text font-size="9.8" text-anchor="middle" x="477.48" y="794.67" style="fill:#151515;stroke:#151515;stroke-width:.2px">0.38</text>
<text font-size="9.8" text-anchor="middle" x="345.32" y="820.92" style="fill:#151515;stroke:#151515;stroke-width:.2px">0.55</text>
<text font-size="9.8" text-anchor="middle" x="371.75" y="820.92" style="fill:#151515;stroke:#151515;stroke-width:.2px">0.60</text>
<text font-size="9.8" text-anchor="middle" x="398.18" y="820.92" style="fill:#151515;stroke:#151515;stroke-width:.2px">0.76</text>
<text font-size="9.8" text-anchor="middle" x="424.62" y="820.92" style="fill:#fff;stroke:#fff;stroke-width:.2px">1.00</text>
<text font-size="9.8" text-anchor="middle" x="451.05" y="820.92" style="fill:#151515;stroke:#151515;stroke-width:.2px">0.76</text>
<text font-size="9.8" text-anchor="middle" x="477.48" y="820.92" style="fill:#151515;stroke:#151515;stroke-width:.2px">0.33</text>
<text font-size="9.8" text-anchor="middle" x="345.32" y="847.17" style="fill:#151515;stroke:#151515;stroke-width:.2px">0.46</text>
<text font-size="9.8" text-anchor="middle" x="371.75" y="847.17" style="fill:#151515;stroke:#151515;stroke-width:.2px">0.40</text>
<text font-size="9.8" text-anchor="middle" x="398.18" y="847.17" style="fill:#151515;stroke:#151515;stroke-width:.2px">0.58</text>
<text font-size="9.8" text-anchor="middle" x="424.62" y="847.17" style="fill:#151515;stroke:#151515;stroke-width:.2px">0.76</text>
<text font-size="9.8" text-anchor="middle" x="451.05" y="847.17" style="fill:#fff;stroke:#fff;stroke-width:.2px">1.00</text>
<text font-size="9.8" text-anchor="middle" x="477.48" y="847.17" style="fill:#151515;stroke:#151515;stroke-width:.2px">0.36</text>
<text font-size="9.8" text-anchor="middle" x="345.32" y="873.42" style="fill:#151515;stroke:#151515;stroke-width:.2px">0.32</text>
<text font-size="9.8" text-anchor="middle" x="371.75" y="873.42" style="fill:#151515;stroke:#151515;stroke-width:.2px">0.46</text>
<text font-size="9.8" text-anchor="middle" x="398.18" y="873.42" style="fill:#151515;stroke:#151515;stroke-width:.2px">0.38</text>
<text font-size="9.8" text-anchor="middle" x="424.62" y="873.42" style="fill:#151515;stroke:#151515;stroke-width:.2px">0.33</text>
<text font-size="9.8" text-anchor="middle" x="451.05" y="873.42" style="fill:#151515;stroke:#151515;stroke-width:.2px">0.36</text>
<text font-size="9.8" text-anchor="middle" x="477.48" y="873.42" style="fill:#fff;stroke:#fff;stroke-width:.2px">1.00</text>
<text font-size="12.5" text-anchor="middle" x="410.8" y="721">mRNAs</text>
<rect x="499.6" y="725.5" width="9.7" height="157.5" fill="url(#bg)" stroke="#0b0b0b" stroke-width="1.4"/>
<text font-size="9.8" x="514.9" y="728.95">1.0</text>
<text font-size="9.8" x="514.9" y="768.33">0.5</text>
<text font-size="9.8" x="514.9" y="807.7">0</text>
<text font-size="9.8" x="514.9" y="847.08">-0.5</text>
<text font-size="9.8" x="514.9" y="886.45">-1.0</text>
<path d="M499.6 764.88h2M509.3 764.88h-2M499.6 804.25h2M509.3 804.25h-2M499.6 843.62h2M509.3 843.62h-2" stroke="#0b0b0b" stroke-width="0.9" fill="none"/>
</svg>
</body></html>
